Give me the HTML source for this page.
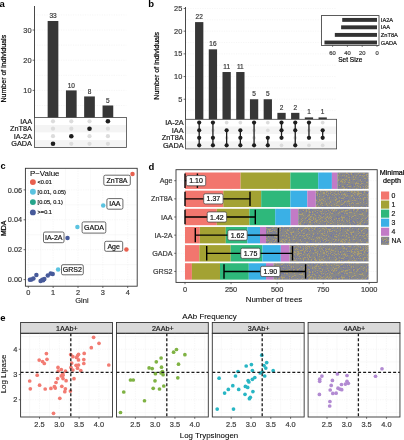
<!DOCTYPE html>
<html><head><meta charset="utf-8"><style>
html,body{margin:0;padding:0;background:#fff;width:404px;height:440px;overflow:hidden;}
svg{display:block;}
text{font-family:"Liberation Sans", sans-serif;}
</style></head><body>
<svg width="404" height="440" viewBox="0 0 404 440" style="will-change:transform;filter:blur(0.28px)">
<rect width="404" height="440" fill="#fff"/>
<text x="-0.4" y="6.8" text-anchor="start" font-size="9.5" fill="#000" font-weight="bold">a</text>
<text x="148.3" y="6.8" text-anchor="start" font-size="9.5" fill="#000" font-weight="bold">b</text>
<text x="0.6" y="169.3" text-anchor="start" font-size="9.2" fill="#000" font-weight="bold">c</text>
<text x="148.4" y="169.6" text-anchor="start" font-size="9.5" fill="#000" font-weight="bold">d</text>
<text x="0.2" y="321.2" text-anchor="start" font-size="9.5" fill="#000" font-weight="bold">e</text>
<line x1="34.5" y1="105.49" x2="126.4" y2="105.49" stroke="#f0f0f0" stroke-width="0.6" stroke-dasharray="1.2,1.2"/>
<line x1="34.5" y1="90.4" x2="126.4" y2="90.4" stroke="#f0f0f0" stroke-width="0.6" stroke-dasharray="1.2,1.2"/>
<line x1="34.5" y1="75.31" x2="126.4" y2="75.31" stroke="#f0f0f0" stroke-width="0.6" stroke-dasharray="1.2,1.2"/>
<line x1="34.5" y1="60.22" x2="126.4" y2="60.22" stroke="#f0f0f0" stroke-width="0.6" stroke-dasharray="1.2,1.2"/>
<line x1="34.5" y1="45.13000000000001" x2="126.4" y2="45.13000000000001" stroke="#f0f0f0" stroke-width="0.6" stroke-dasharray="1.2,1.2"/>
<line x1="34.5" y1="30.040000000000006" x2="126.4" y2="30.040000000000006" stroke="#f0f0f0" stroke-width="0.6" stroke-dasharray="1.2,1.2"/>
<line x1="34.5" y1="14.950000000000003" x2="126.4" y2="14.950000000000003" stroke="#f0f0f0" stroke-width="0.6" stroke-dasharray="1.2,1.2"/>
<line x1="34.5" y1="6.0" x2="34.5" y2="117.5" stroke="#333333" stroke-width="0.9"/>
<line x1="32.6" y1="90.4" x2="34.5" y2="90.4" stroke="#333333" stroke-width="0.7"/>
<text x="31.5" y="93.0" text-anchor="end" font-size="7.4" fill="#3a3a3a" stroke="#3a3a3a" stroke-width="0.2">10</text>
<line x1="32.6" y1="60.22" x2="34.5" y2="60.22" stroke="#333333" stroke-width="0.7"/>
<text x="31.5" y="62.82" text-anchor="end" font-size="7.4" fill="#3a3a3a" stroke="#3a3a3a" stroke-width="0.2">20</text>
<line x1="32.6" y1="30.040000000000006" x2="34.5" y2="30.040000000000006" stroke="#333333" stroke-width="0.7"/>
<text x="31.5" y="32.64000000000001" text-anchor="end" font-size="7.4" fill="#3a3a3a" stroke="#3a3a3a" stroke-width="0.2">30</text>
<text transform="translate(5.9,68.7) rotate(-90)" text-anchor="middle" font-size="7.05" fill="#000" stroke="#000" stroke-width="0.2">Number of individuals</text>
<rect x="47.65" y="20.99" width="10.70" height="96.51" fill="#363636"/>
<text x="53.0" y="18.286000000000005" text-anchor="middle" font-size="6.5" fill="#3a3a3a" stroke="#3a3a3a" stroke-width="0.2">33</text>
<rect x="65.95" y="90.40" width="10.70" height="27.10" fill="#363636"/>
<text x="71.3" y="87.7" text-anchor="middle" font-size="6.5" fill="#3a3a3a" stroke="#3a3a3a" stroke-width="0.2">10</text>
<rect x="84.15" y="96.44" width="10.70" height="21.06" fill="#363636"/>
<text x="89.5" y="93.736" text-anchor="middle" font-size="6.5" fill="#3a3a3a" stroke="#3a3a3a" stroke-width="0.2">8</text>
<rect x="102.55" y="105.49" width="10.70" height="12.01" fill="#363636"/>
<text x="107.9" y="102.78999999999999" text-anchor="middle" font-size="6.5" fill="#3a3a3a" stroke="#3a3a3a" stroke-width="0.2">5</text>
<rect x="34.50" y="125.00" width="91.90" height="7.40" fill="#f4f4f4"/>
<rect x="34.50" y="140.10" width="91.90" height="7.40" fill="#f4f4f4"/>
<rect x="34.5" y="117.5" width="91.90" height="30" fill="none" stroke="#444" stroke-width="0.8"/>
<text x="32.0" y="123.89999999999999" text-anchor="end" font-size="7.3" fill="#1a1a1a" stroke="#1a1a1a" stroke-width="0.2">IAA</text>
<text x="32.0" y="131.29999999999998" text-anchor="end" font-size="7.3" fill="#1a1a1a" stroke="#1a1a1a" stroke-width="0.2">ZnT8A</text>
<text x="32.0" y="138.79999999999998" text-anchor="end" font-size="7.3" fill="#1a1a1a" stroke="#1a1a1a" stroke-width="0.2">IA-2A</text>
<text x="32.0" y="146.4" text-anchor="end" font-size="7.3" fill="#1a1a1a" stroke="#1a1a1a" stroke-width="0.2">GADA</text>
<circle cx="53.00" cy="121.30" r="2.1" fill="#dcdcdc"/>
<circle cx="53.00" cy="128.70" r="2.1" fill="#dcdcdc"/>
<circle cx="53.00" cy="136.20" r="2.1" fill="#dcdcdc"/>
<circle cx="53.00" cy="143.80" r="2.3" fill="#1e1e1e"/>
<circle cx="71.30" cy="121.30" r="2.1" fill="#dcdcdc"/>
<circle cx="71.30" cy="128.70" r="2.1" fill="#dcdcdc"/>
<circle cx="71.30" cy="136.20" r="2.3" fill="#1e1e1e"/>
<circle cx="71.30" cy="143.80" r="2.1" fill="#dcdcdc"/>
<circle cx="89.50" cy="121.30" r="2.1" fill="#dcdcdc"/>
<circle cx="89.50" cy="128.70" r="2.3" fill="#1e1e1e"/>
<circle cx="89.50" cy="136.20" r="2.1" fill="#dcdcdc"/>
<circle cx="89.50" cy="143.80" r="2.1" fill="#dcdcdc"/>
<circle cx="107.90" cy="121.30" r="2.3" fill="#1e1e1e"/>
<circle cx="107.90" cy="128.70" r="2.1" fill="#dcdcdc"/>
<circle cx="107.90" cy="136.20" r="2.1" fill="#dcdcdc"/>
<circle cx="107.90" cy="143.80" r="2.1" fill="#dcdcdc"/>
<line x1="185.5" y1="110.595" x2="336.6" y2="110.595" stroke="#f0f0f0" stroke-width="0.6" stroke-dasharray="1.2,1.2"/>
<line x1="185.5" y1="99.25" x2="336.6" y2="99.25" stroke="#f0f0f0" stroke-width="0.6" stroke-dasharray="1.2,1.2"/>
<line x1="185.5" y1="87.905" x2="336.6" y2="87.905" stroke="#f0f0f0" stroke-width="0.6" stroke-dasharray="1.2,1.2"/>
<line x1="185.5" y1="76.56" x2="336.6" y2="76.56" stroke="#f0f0f0" stroke-width="0.6" stroke-dasharray="1.2,1.2"/>
<line x1="185.5" y1="65.215" x2="336.6" y2="65.215" stroke="#f0f0f0" stroke-width="0.6" stroke-dasharray="1.2,1.2"/>
<line x1="185.5" y1="53.86999999999999" x2="336.6" y2="53.86999999999999" stroke="#f0f0f0" stroke-width="0.6" stroke-dasharray="1.2,1.2"/>
<line x1="185.5" y1="42.52499999999999" x2="336.6" y2="42.52499999999999" stroke="#f0f0f0" stroke-width="0.6" stroke-dasharray="1.2,1.2"/>
<line x1="185.5" y1="31.179999999999993" x2="336.6" y2="31.179999999999993" stroke="#f0f0f0" stroke-width="0.6" stroke-dasharray="1.2,1.2"/>
<line x1="185.5" y1="19.834999999999994" x2="336.6" y2="19.834999999999994" stroke="#f0f0f0" stroke-width="0.6" stroke-dasharray="1.2,1.2"/>
<line x1="185.5" y1="8.489999999999995" x2="336.6" y2="8.489999999999995" stroke="#f0f0f0" stroke-width="0.6" stroke-dasharray="1.2,1.2"/>
<line x1="185.5" y1="7.0" x2="185.5" y2="119.0" stroke="#333333" stroke-width="0.9"/>
<line x1="183.6" y1="99.25" x2="185.5" y2="99.25" stroke="#333333" stroke-width="0.7"/>
<text x="182.3" y="101.85" text-anchor="end" font-size="7.4" fill="#3a3a3a" stroke="#3a3a3a" stroke-width="0.2">5</text>
<line x1="183.6" y1="76.56" x2="185.5" y2="76.56" stroke="#333333" stroke-width="0.7"/>
<text x="182.3" y="79.16" text-anchor="end" font-size="7.4" fill="#3a3a3a" stroke="#3a3a3a" stroke-width="0.2">10</text>
<line x1="183.6" y1="53.86999999999999" x2="185.5" y2="53.86999999999999" stroke="#333333" stroke-width="0.7"/>
<text x="182.3" y="56.46999999999999" text-anchor="end" font-size="7.4" fill="#3a3a3a" stroke="#3a3a3a" stroke-width="0.2">15</text>
<line x1="183.6" y1="31.179999999999993" x2="185.5" y2="31.179999999999993" stroke="#333333" stroke-width="0.7"/>
<text x="182.3" y="33.779999999999994" text-anchor="end" font-size="7.4" fill="#3a3a3a" stroke="#3a3a3a" stroke-width="0.2">20</text>
<line x1="183.6" y1="8.489999999999995" x2="185.5" y2="8.489999999999995" stroke="#333333" stroke-width="0.7"/>
<text x="182.3" y="11.089999999999995" text-anchor="end" font-size="7.4" fill="#3a3a3a" stroke="#3a3a3a" stroke-width="0.2">25</text>
<text transform="translate(159.3,65.8) rotate(-90)" text-anchor="middle" font-size="7.05" fill="#000" stroke="#000" stroke-width="0.2">Number of individuals</text>
<rect x="195.05" y="22.10" width="8.30" height="97.20" fill="#363636"/>
<text x="199.2" y="18.903999999999986" text-anchor="middle" font-size="6.5" fill="#3a3a3a" stroke="#3a3a3a" stroke-width="0.2">22</text>
<rect x="208.77" y="49.33" width="8.30" height="69.97" fill="#363636"/>
<text x="212.92" y="46.13199999999999" text-anchor="middle" font-size="6.5" fill="#3a3a3a" stroke="#3a3a3a" stroke-width="0.2">16</text>
<rect x="222.49" y="72.02" width="8.30" height="47.28" fill="#363636"/>
<text x="226.64" y="68.82199999999999" text-anchor="middle" font-size="6.5" fill="#3a3a3a" stroke="#3a3a3a" stroke-width="0.2">11</text>
<rect x="236.21" y="72.02" width="8.30" height="47.28" fill="#363636"/>
<text x="240.35999999999999" y="68.82199999999999" text-anchor="middle" font-size="6.5" fill="#3a3a3a" stroke="#3a3a3a" stroke-width="0.2">11</text>
<rect x="249.93" y="99.25" width="8.30" height="20.05" fill="#363636"/>
<text x="254.07999999999998" y="96.05" text-anchor="middle" font-size="6.5" fill="#3a3a3a" stroke="#3a3a3a" stroke-width="0.2">5</text>
<rect x="263.65" y="99.25" width="8.30" height="20.05" fill="#363636"/>
<text x="267.8" y="96.05" text-anchor="middle" font-size="6.5" fill="#3a3a3a" stroke="#3a3a3a" stroke-width="0.2">5</text>
<rect x="277.37" y="112.86" width="8.30" height="6.44" fill="#363636"/>
<text x="281.52" y="109.664" text-anchor="middle" font-size="6.5" fill="#3a3a3a" stroke="#3a3a3a" stroke-width="0.2">2</text>
<rect x="291.09" y="112.86" width="8.30" height="6.44" fill="#363636"/>
<text x="295.24" y="109.664" text-anchor="middle" font-size="6.5" fill="#3a3a3a" stroke="#3a3a3a" stroke-width="0.2">2</text>
<rect x="304.81" y="117.40" width="8.30" height="1.90" fill="#363636"/>
<text x="308.96" y="114.202" text-anchor="middle" font-size="6.5" fill="#3a3a3a" stroke="#3a3a3a" stroke-width="0.2">1</text>
<rect x="318.53" y="117.40" width="8.30" height="1.90" fill="#363636"/>
<text x="322.68" y="114.202" text-anchor="middle" font-size="6.5" fill="#3a3a3a" stroke="#3a3a3a" stroke-width="0.2">1</text>
<rect x="185.50" y="126.50" width="151.10" height="7.50" fill="#f4f4f4"/>
<rect x="185.50" y="141.40" width="151.10" height="7.50" fill="#f4f4f4"/>
<rect x="185.5" y="119.3" width="151.10" height="29.6" fill="none" stroke="#444" stroke-width="0.8"/>
<text x="183.6" y="125.19999999999999" text-anchor="end" font-size="7.3" fill="#1a1a1a" stroke="#1a1a1a" stroke-width="0.2">IA-2A</text>
<text x="183.6" y="132.9" text-anchor="end" font-size="7.3" fill="#1a1a1a" stroke="#1a1a1a" stroke-width="0.2">IAA</text>
<text x="183.6" y="140.4" text-anchor="end" font-size="7.3" fill="#1a1a1a" stroke="#1a1a1a" stroke-width="0.2">ZnT8A</text>
<text x="183.6" y="147.9" text-anchor="end" font-size="7.3" fill="#1a1a1a" stroke="#1a1a1a" stroke-width="0.2">GADA</text>
<line x1="199.2" y1="122.6" x2="199.2" y2="145.3" stroke="#1e1e1e" stroke-width="1.3"/>
<circle cx="199.20" cy="122.60" r="2.1" fill="#1e1e1e"/>
<circle cx="199.20" cy="130.30" r="2.1" fill="#1e1e1e"/>
<circle cx="199.20" cy="137.80" r="2.1" fill="#1e1e1e"/>
<circle cx="199.20" cy="145.30" r="2.1" fill="#1e1e1e"/>
<circle cx="212.92" cy="130.30" r="1.85" fill="#dcdcdc"/>
<line x1="212.92" y1="122.6" x2="212.92" y2="145.3" stroke="#1e1e1e" stroke-width="1.3"/>
<circle cx="212.92" cy="122.60" r="2.1" fill="#1e1e1e"/>
<circle cx="212.92" cy="137.80" r="2.1" fill="#1e1e1e"/>
<circle cx="212.92" cy="145.30" r="2.1" fill="#1e1e1e"/>
<circle cx="226.64" cy="122.60" r="1.85" fill="#dcdcdc"/>
<circle cx="226.64" cy="137.80" r="1.85" fill="#dcdcdc"/>
<line x1="226.64" y1="130.3" x2="226.64" y2="145.3" stroke="#1e1e1e" stroke-width="1.3"/>
<circle cx="226.64" cy="130.30" r="2.1" fill="#1e1e1e"/>
<circle cx="226.64" cy="145.30" r="2.1" fill="#1e1e1e"/>
<circle cx="240.36" cy="122.60" r="1.85" fill="#dcdcdc"/>
<line x1="240.35999999999999" y1="130.3" x2="240.35999999999999" y2="145.3" stroke="#1e1e1e" stroke-width="1.3"/>
<circle cx="240.36" cy="130.30" r="2.1" fill="#1e1e1e"/>
<circle cx="240.36" cy="137.80" r="2.1" fill="#1e1e1e"/>
<circle cx="240.36" cy="145.30" r="2.1" fill="#1e1e1e"/>
<circle cx="254.08" cy="130.30" r="1.85" fill="#dcdcdc"/>
<circle cx="254.08" cy="137.80" r="1.85" fill="#dcdcdc"/>
<line x1="254.07999999999998" y1="122.6" x2="254.07999999999998" y2="145.3" stroke="#1e1e1e" stroke-width="1.3"/>
<circle cx="254.08" cy="122.60" r="2.1" fill="#1e1e1e"/>
<circle cx="254.08" cy="145.30" r="2.1" fill="#1e1e1e"/>
<circle cx="267.80" cy="122.60" r="1.85" fill="#dcdcdc"/>
<circle cx="267.80" cy="130.30" r="1.85" fill="#dcdcdc"/>
<line x1="267.8" y1="137.8" x2="267.8" y2="145.3" stroke="#1e1e1e" stroke-width="1.3"/>
<circle cx="267.80" cy="137.80" r="2.1" fill="#1e1e1e"/>
<circle cx="267.80" cy="145.30" r="2.1" fill="#1e1e1e"/>
<circle cx="281.52" cy="145.30" r="1.85" fill="#dcdcdc"/>
<line x1="281.52" y1="122.6" x2="281.52" y2="137.8" stroke="#1e1e1e" stroke-width="1.3"/>
<circle cx="281.52" cy="122.60" r="2.1" fill="#1e1e1e"/>
<circle cx="281.52" cy="130.30" r="2.1" fill="#1e1e1e"/>
<circle cx="281.52" cy="137.80" r="2.1" fill="#1e1e1e"/>
<circle cx="295.24" cy="137.80" r="1.85" fill="#dcdcdc"/>
<line x1="295.24" y1="122.6" x2="295.24" y2="145.3" stroke="#1e1e1e" stroke-width="1.3"/>
<circle cx="295.24" cy="122.60" r="2.1" fill="#1e1e1e"/>
<circle cx="295.24" cy="130.30" r="2.1" fill="#1e1e1e"/>
<circle cx="295.24" cy="145.30" r="2.1" fill="#1e1e1e"/>
<circle cx="308.96" cy="130.30" r="1.85" fill="#dcdcdc"/>
<circle cx="308.96" cy="145.30" r="1.85" fill="#dcdcdc"/>
<line x1="308.96" y1="122.6" x2="308.96" y2="137.8" stroke="#1e1e1e" stroke-width="1.3"/>
<circle cx="308.96" cy="122.60" r="2.1" fill="#1e1e1e"/>
<circle cx="308.96" cy="137.80" r="2.1" fill="#1e1e1e"/>
<circle cx="322.68" cy="122.60" r="1.85" fill="#dcdcdc"/>
<circle cx="322.68" cy="145.30" r="1.85" fill="#dcdcdc"/>
<line x1="322.68" y1="130.3" x2="322.68" y2="137.8" stroke="#1e1e1e" stroke-width="1.3"/>
<circle cx="322.68" cy="130.30" r="2.1" fill="#1e1e1e"/>
<circle cx="322.68" cy="137.80" r="2.1" fill="#1e1e1e"/>
<rect x="321.4" y="15.6" width="57.6" height="29.8" fill="#fff" stroke="#333" stroke-width="0.8"/>
<rect x="342.22" y="17.95" width="34.78" height="3.90" fill="#333"/>
<text x="380.8" y="21.9" text-anchor="start" font-size="5.7" fill="#1a1a1a" stroke="#1a1a1a" stroke-width="0.2">IA2A</text>
<rect x="341.11" y="25.35" width="35.89" height="3.90" fill="#333"/>
<text x="380.8" y="29.3" text-anchor="start" font-size="5.7" fill="#1a1a1a" stroke="#1a1a1a" stroke-width="0.2">IAA</text>
<rect x="334.82" y="32.95" width="42.18" height="3.90" fill="#333"/>
<text x="380.8" y="36.9" text-anchor="start" font-size="5.7" fill="#1a1a1a" stroke="#1a1a1a" stroke-width="0.2">ZnT8A</text>
<rect x="324.46" y="40.55" width="52.54" height="3.90" fill="#333"/>
<text x="380.8" y="44.5" text-anchor="start" font-size="5.7" fill="#1a1a1a" stroke="#1a1a1a" stroke-width="0.2">GADA</text>
<line x1="377.0" y1="45.4" x2="377.0" y2="47.0" stroke="#333333" stroke-width="0.6"/>
<text x="377.0" y="54.6" text-anchor="middle" font-size="5.8" fill="#3a3a3a" stroke="#3a3a3a" stroke-width="0.2">0</text>
<line x1="362.2" y1="45.4" x2="362.2" y2="47.0" stroke="#333333" stroke-width="0.6"/>
<text x="362.2" y="54.6" text-anchor="middle" font-size="5.8" fill="#3a3a3a" stroke="#3a3a3a" stroke-width="0.2">20</text>
<line x1="347.4" y1="45.4" x2="347.4" y2="47.0" stroke="#333333" stroke-width="0.6"/>
<text x="347.4" y="54.6" text-anchor="middle" font-size="5.8" fill="#3a3a3a" stroke="#3a3a3a" stroke-width="0.2">40</text>
<line x1="332.6" y1="45.4" x2="332.6" y2="47.0" stroke="#333333" stroke-width="0.6"/>
<text x="332.6" y="54.6" text-anchor="middle" font-size="5.8" fill="#3a3a3a" stroke="#3a3a3a" stroke-width="0.2">60</text>
<text x="350.4" y="61.7" text-anchor="middle" font-size="6.5" fill="#000" stroke="#000" stroke-width="0.2">Set Size</text>
<line x1="40.725" y1="168.3" x2="40.725" y2="286.2" stroke="#f2f2f2" stroke-width="0.5"/>
<line x1="65.575" y1="168.3" x2="65.575" y2="286.2" stroke="#f2f2f2" stroke-width="0.5"/>
<line x1="90.425" y1="168.3" x2="90.425" y2="286.2" stroke="#f2f2f2" stroke-width="0.5"/>
<line x1="115.275" y1="168.3" x2="115.275" y2="286.2" stroke="#f2f2f2" stroke-width="0.5"/>
<line x1="25.4" y1="264.65000000000003" x2="137.2" y2="264.65000000000003" stroke="#f2f2f2" stroke-width="0.5"/>
<line x1="25.4" y1="234.75000000000003" x2="137.2" y2="234.75000000000003" stroke="#f2f2f2" stroke-width="0.5"/>
<line x1="25.4" y1="204.85000000000002" x2="137.2" y2="204.85000000000002" stroke="#f2f2f2" stroke-width="0.5"/>
<line x1="28.3" y1="168.3" x2="28.3" y2="286.2" stroke="#f0f0f0" stroke-width="0.6" stroke-dasharray="1.2,1.2"/>
<line x1="53.150000000000006" y1="168.3" x2="53.150000000000006" y2="286.2" stroke="#f0f0f0" stroke-width="0.6" stroke-dasharray="1.2,1.2"/>
<line x1="78.0" y1="168.3" x2="78.0" y2="286.2" stroke="#f0f0f0" stroke-width="0.6" stroke-dasharray="1.2,1.2"/>
<line x1="102.85000000000001" y1="168.3" x2="102.85000000000001" y2="286.2" stroke="#f0f0f0" stroke-width="0.6" stroke-dasharray="1.2,1.2"/>
<line x1="127.7" y1="168.3" x2="127.7" y2="286.2" stroke="#f0f0f0" stroke-width="0.6" stroke-dasharray="1.2,1.2"/>
<line x1="25.4" y1="279.6" x2="137.2" y2="279.6" stroke="#f0f0f0" stroke-width="0.6" stroke-dasharray="1.2,1.2"/>
<line x1="25.4" y1="249.70000000000002" x2="137.2" y2="249.70000000000002" stroke="#f0f0f0" stroke-width="0.6" stroke-dasharray="1.2,1.2"/>
<line x1="25.4" y1="219.8" x2="137.2" y2="219.8" stroke="#f0f0f0" stroke-width="0.6" stroke-dasharray="1.2,1.2"/>
<line x1="25.4" y1="189.90000000000003" x2="137.2" y2="189.90000000000003" stroke="#f0f0f0" stroke-width="0.6" stroke-dasharray="1.2,1.2"/>
<rect x="25.4" y="168.3" width="111.80" height="117.90" fill="none" stroke="#333" stroke-width="0.9"/>
<line x1="23.6" y1="279.6" x2="25.4" y2="279.6" stroke="#333333" stroke-width="0.7"/>
<text x="22.0" y="282.20000000000005" text-anchor="end" font-size="7.3" fill="#3a3a3a" stroke="#3a3a3a" stroke-width="0.2">0.00</text>
<line x1="23.6" y1="249.70000000000002" x2="25.4" y2="249.70000000000002" stroke="#333333" stroke-width="0.7"/>
<text x="22.0" y="252.3" text-anchor="end" font-size="7.3" fill="#3a3a3a" stroke="#3a3a3a" stroke-width="0.2">0.02</text>
<line x1="23.6" y1="219.8" x2="25.4" y2="219.8" stroke="#333333" stroke-width="0.7"/>
<text x="22.0" y="222.4" text-anchor="end" font-size="7.3" fill="#3a3a3a" stroke="#3a3a3a" stroke-width="0.2">0.04</text>
<line x1="23.6" y1="189.90000000000003" x2="25.4" y2="189.90000000000003" stroke="#333333" stroke-width="0.7"/>
<text x="22.0" y="192.50000000000003" text-anchor="end" font-size="7.3" fill="#3a3a3a" stroke="#3a3a3a" stroke-width="0.2">0.06</text>
<line x1="28.3" y1="286.2" x2="28.3" y2="288.0" stroke="#333333" stroke-width="0.7"/>
<text x="28.3" y="295.0" text-anchor="middle" font-size="7.4" fill="#3a3a3a" stroke="#3a3a3a" stroke-width="0.2">0</text>
<line x1="53.150000000000006" y1="286.2" x2="53.150000000000006" y2="288.0" stroke="#333333" stroke-width="0.7"/>
<text x="53.150000000000006" y="295.0" text-anchor="middle" font-size="7.4" fill="#3a3a3a" stroke="#3a3a3a" stroke-width="0.2">1</text>
<line x1="78.0" y1="286.2" x2="78.0" y2="288.0" stroke="#333333" stroke-width="0.7"/>
<text x="78.0" y="295.0" text-anchor="middle" font-size="7.4" fill="#3a3a3a" stroke="#3a3a3a" stroke-width="0.2">2</text>
<line x1="102.85000000000001" y1="286.2" x2="102.85000000000001" y2="288.0" stroke="#333333" stroke-width="0.7"/>
<text x="102.85000000000001" y="295.0" text-anchor="middle" font-size="7.4" fill="#3a3a3a" stroke="#3a3a3a" stroke-width="0.2">3</text>
<line x1="127.7" y1="286.2" x2="127.7" y2="288.0" stroke="#333333" stroke-width="0.7"/>
<text x="127.7" y="295.0" text-anchor="middle" font-size="7.4" fill="#3a3a3a" stroke="#3a3a3a" stroke-width="0.2">4</text>
<text x="81.9" y="302.7" text-anchor="middle" font-size="7.5" fill="#000" stroke="#000" stroke-width="0.06">Gini</text>
<text transform="translate(5.8,228.3) rotate(-90)" text-anchor="middle" font-size="6.9" fill="#000" stroke="#000" stroke-width="0.2">MDA</text>
<text x="30.0" y="176.0" text-anchor="start" font-size="7.9" fill="#000" stroke="#000" stroke-width="0.06">P−Value</text>
<circle cx="32.90" cy="182.10" r="2.95" fill="#e8604f"/>
<text x="37.6" y="184.1" text-anchor="start" font-size="5.6" fill="#1a1a1a" stroke="#1a1a1a" stroke-width="0.2">&lt;0.01</text>
<circle cx="32.90" cy="191.70" r="2.95" fill="#5bc3e0"/>
<text x="37.6" y="193.7" text-anchor="start" font-size="5.6" fill="#1a1a1a" stroke="#1a1a1a" stroke-width="0.2">[0.01, 0.05)</text>
<circle cx="32.90" cy="202.10" r="2.95" fill="#26a58b"/>
<text x="37.6" y="204.1" text-anchor="start" font-size="5.6" fill="#1a1a1a" stroke="#1a1a1a" stroke-width="0.2">[0.05, 0.1)</text>
<circle cx="32.90" cy="212.40" r="2.95" fill="#475a9a"/>
<text x="37.6" y="214.4" text-anchor="start" font-size="5.6" fill="#1a1a1a" stroke="#1a1a1a" stroke-width="0.2">&gt;=0.1</text>
<circle cx="29.90" cy="279.80" r="2.25" fill="#475a9a"/>
<circle cx="33.40" cy="278.60" r="2.25" fill="#475a9a"/>
<circle cx="36.40" cy="274.90" r="2.25" fill="#475a9a"/>
<circle cx="40.60" cy="281.00" r="2.25" fill="#475a9a"/>
<circle cx="42.30" cy="279.80" r="2.25" fill="#475a9a"/>
<circle cx="44.30" cy="279.10" r="2.25" fill="#475a9a"/>
<circle cx="47.80" cy="275.60" r="2.25" fill="#475a9a"/>
<circle cx="50.70" cy="273.40" r="2.25" fill="#475a9a"/>
<circle cx="52.70" cy="273.90" r="2.25" fill="#475a9a"/>
<circle cx="31.50" cy="279.60" r="2.25" fill="#475a9a"/>
<circle cx="43.20" cy="280.30" r="2.25" fill="#475a9a"/>
<circle cx="67.50" cy="238.10" r="2.25" fill="#475a9a"/>
<circle cx="58.10" cy="269.60" r="2.25" fill="#5bc3e0"/>
<circle cx="77.40" cy="226.90" r="2.25" fill="#5bc3e0"/>
<circle cx="103.20" cy="205.50" r="2.25" fill="#5bc3e0"/>
<circle cx="132.50" cy="173.90" r="2.25" fill="#e8604f"/>
<circle cx="126.40" cy="249.50" r="2.25" fill="#e8604f"/>
<rect x="103.80" y="175.20" width="26.50" height="10.20" rx="1.5" fill="#fff" stroke="#444" stroke-width="0.8"/>
<text x="117.05000000000001" y="182.8" text-anchor="middle" font-size="7.0" fill="#111" stroke="#111" stroke-width="0.2">ZnT8A</text>
<rect x="106.90" y="198.60" width="16.00" height="10.60" rx="1.5" fill="#fff" stroke="#444" stroke-width="0.8"/>
<text x="114.9" y="206.39999999999998" text-anchor="middle" font-size="7.0" fill="#111" stroke="#111" stroke-width="0.2">IAA</text>
<rect x="82.10" y="221.90" width="23.70" height="11.20" rx="1.5" fill="#fff" stroke="#444" stroke-width="0.8"/>
<text x="93.94999999999999" y="230.0" text-anchor="middle" font-size="7.0" fill="#111" stroke="#111" stroke-width="0.2">GADA</text>
<rect x="43.50" y="232.00" width="20.50" height="10.70" rx="1.5" fill="#fff" stroke="#444" stroke-width="0.8"/>
<text x="53.75" y="239.85" text-anchor="middle" font-size="7.0" fill="#111" stroke="#111" stroke-width="0.2">IA-2A</text>
<rect x="104.70" y="241.30" width="18.00" height="10.00" rx="1.5" fill="#fff" stroke="#444" stroke-width="0.8"/>
<text x="113.7" y="248.8" text-anchor="middle" font-size="7.0" fill="#111" stroke="#111" stroke-width="0.2">Age</text>
<rect x="61.50" y="264.70" width="21.80" height="10.10" rx="1.5" fill="#fff" stroke="#444" stroke-width="0.8"/>
<text x="72.4" y="272.25" text-anchor="middle" font-size="7.0" fill="#111" stroke="#111" stroke-width="0.2">GRS2</text>
<line x1="185.0" y1="169.7" x2="185.0" y2="282.4" stroke="#f0f0f0" stroke-width="0.6" stroke-dasharray="1.2,1.2"/>
<line x1="231.05" y1="169.7" x2="231.05" y2="282.4" stroke="#f0f0f0" stroke-width="0.6" stroke-dasharray="1.2,1.2"/>
<line x1="277.1" y1="169.7" x2="277.1" y2="282.4" stroke="#f0f0f0" stroke-width="0.6" stroke-dasharray="1.2,1.2"/>
<line x1="323.15" y1="169.7" x2="323.15" y2="282.4" stroke="#f0f0f0" stroke-width="0.6" stroke-dasharray="1.2,1.2"/>
<line x1="369.2" y1="169.7" x2="369.2" y2="282.4" stroke="#f0f0f0" stroke-width="0.6" stroke-dasharray="1.2,1.2"/>
<line x1="176.0" y1="180.7" x2="377.2" y2="180.7" stroke="#f0f0f0" stroke-width="0.6" stroke-dasharray="1.2,1.2"/>
<line x1="176.0" y1="198.85" x2="377.2" y2="198.85" stroke="#f0f0f0" stroke-width="0.6" stroke-dasharray="1.2,1.2"/>
<line x1="176.0" y1="217.0" x2="377.2" y2="217.0" stroke="#f0f0f0" stroke-width="0.6" stroke-dasharray="1.2,1.2"/>
<line x1="176.0" y1="235.14999999999998" x2="377.2" y2="235.14999999999998" stroke="#f0f0f0" stroke-width="0.6" stroke-dasharray="1.2,1.2"/>
<line x1="176.0" y1="253.29999999999998" x2="377.2" y2="253.29999999999998" stroke="#f0f0f0" stroke-width="0.6" stroke-dasharray="1.2,1.2"/>
<line x1="176.0" y1="271.45" x2="377.2" y2="271.45" stroke="#f0f0f0" stroke-width="0.6" stroke-dasharray="1.2,1.2"/>
<defs><pattern id="na" x="0" y="0" width="60" height="60" patternUnits="userSpaceOnUse"><rect width="60" height="60" fill="#888888"/><rect x="0" y="0" width="1" height="1" fill="#aa9c70"/><rect x="1" y="0" width="1" height="1" fill="#767aa0"/><rect x="3" y="0" width="1" height="1" fill="#767aa0"/><rect x="6" y="0" width="1" height="1" fill="#767aa0"/><rect x="8" y="0" width="1" height="1" fill="#767aa0"/><rect x="10" y="0" width="1" height="1" fill="#767aa0"/><rect x="11" y="0" width="1" height="1" fill="#767aa0"/><rect x="14" y="0" width="1" height="1" fill="#767aa0"/><rect x="15" y="0" width="1" height="1" fill="#aa9c70"/><rect x="21" y="0" width="1" height="1" fill="#767aa0"/><rect x="23" y="0" width="1" height="1" fill="#aa9c70"/><rect x="24" y="0" width="1" height="1" fill="#767aa0"/><rect x="25" y="0" width="1" height="1" fill="#767aa0"/><rect x="26" y="0" width="1" height="1" fill="#aa9c70"/><rect x="28" y="0" width="1" height="1" fill="#aa9c70"/><rect x="33" y="0" width="1" height="1" fill="#767aa0"/><rect x="34" y="0" width="1" height="1" fill="#767aa0"/><rect x="35" y="0" width="1" height="1" fill="#aa9c70"/><rect x="38" y="0" width="1" height="1" fill="#aa9c70"/><rect x="41" y="0" width="1" height="1" fill="#aa9c70"/><rect x="44" y="0" width="1" height="1" fill="#aa9c70"/><rect x="49" y="0" width="1" height="1" fill="#aa9c70"/><rect x="51" y="0" width="1" height="1" fill="#767aa0"/><rect x="54" y="0" width="1" height="1" fill="#767aa0"/><rect x="56" y="0" width="1" height="1" fill="#767aa0"/><rect x="1" y="1" width="1" height="1" fill="#aa9c70"/><rect x="10" y="1" width="1" height="1" fill="#767aa0"/><rect x="15" y="1" width="1" height="1" fill="#aa9c70"/><rect x="18" y="1" width="1" height="1" fill="#767aa0"/><rect x="20" y="1" width="1" height="1" fill="#aa9c70"/><rect x="21" y="1" width="1" height="1" fill="#767aa0"/><rect x="22" y="1" width="1" height="1" fill="#767aa0"/><rect x="24" y="1" width="1" height="1" fill="#767aa0"/><rect x="25" y="1" width="1" height="1" fill="#aa9c70"/><rect x="28" y="1" width="1" height="1" fill="#767aa0"/><rect x="34" y="1" width="1" height="1" fill="#aa9c70"/><rect x="39" y="1" width="1" height="1" fill="#767aa0"/><rect x="40" y="1" width="1" height="1" fill="#aa9c70"/><rect x="41" y="1" width="1" height="1" fill="#aa9c70"/><rect x="42" y="1" width="1" height="1" fill="#aa9c70"/><rect x="45" y="1" width="1" height="1" fill="#aa9c70"/><rect x="46" y="1" width="1" height="1" fill="#767aa0"/><rect x="55" y="1" width="1" height="1" fill="#767aa0"/><rect x="2" y="2" width="1" height="1" fill="#767aa0"/><rect x="4" y="2" width="1" height="1" fill="#767aa0"/><rect x="5" y="2" width="1" height="1" fill="#767aa0"/><rect x="6" y="2" width="1" height="1" fill="#aa9c70"/><rect x="7" y="2" width="1" height="1" fill="#aa9c70"/><rect x="9" y="2" width="1" height="1" fill="#767aa0"/><rect x="10" y="2" width="1" height="1" fill="#767aa0"/><rect x="11" y="2" width="1" height="1" fill="#767aa0"/><rect x="12" y="2" width="1" height="1" fill="#767aa0"/><rect x="14" y="2" width="1" height="1" fill="#767aa0"/><rect x="17" y="2" width="1" height="1" fill="#767aa0"/><rect x="18" y="2" width="1" height="1" fill="#aa9c70"/><rect x="21" y="2" width="1" height="1" fill="#767aa0"/><rect x="26" y="2" width="1" height="1" fill="#767aa0"/><rect x="27" y="2" width="1" height="1" fill="#767aa0"/><rect x="29" y="2" width="1" height="1" fill="#aa9c70"/><rect x="31" y="2" width="1" height="1" fill="#aa9c70"/><rect x="32" y="2" width="1" height="1" fill="#767aa0"/><rect x="35" y="2" width="1" height="1" fill="#767aa0"/><rect x="37" y="2" width="1" height="1" fill="#767aa0"/><rect x="42" y="2" width="1" height="1" fill="#aa9c70"/><rect x="44" y="2" width="1" height="1" fill="#aa9c70"/><rect x="48" y="2" width="1" height="1" fill="#aa9c70"/><rect x="49" y="2" width="1" height="1" fill="#aa9c70"/><rect x="56" y="2" width="1" height="1" fill="#aa9c70"/><rect x="59" y="2" width="1" height="1" fill="#767aa0"/><rect x="0" y="3" width="1" height="1" fill="#767aa0"/><rect x="1" y="3" width="1" height="1" fill="#aa9c70"/><rect x="2" y="3" width="1" height="1" fill="#aa9c70"/><rect x="10" y="3" width="1" height="1" fill="#aa9c70"/><rect x="11" y="3" width="1" height="1" fill="#aa9c70"/><rect x="12" y="3" width="1" height="1" fill="#aa9c70"/><rect x="13" y="3" width="1" height="1" fill="#aa9c70"/><rect x="20" y="3" width="1" height="1" fill="#767aa0"/><rect x="26" y="3" width="1" height="1" fill="#aa9c70"/><rect x="28" y="3" width="1" height="1" fill="#aa9c70"/><rect x="35" y="3" width="1" height="1" fill="#aa9c70"/><rect x="36" y="3" width="1" height="1" fill="#767aa0"/><rect x="37" y="3" width="1" height="1" fill="#767aa0"/><rect x="40" y="3" width="1" height="1" fill="#767aa0"/><rect x="46" y="3" width="1" height="1" fill="#767aa0"/><rect x="47" y="3" width="1" height="1" fill="#767aa0"/><rect x="55" y="3" width="1" height="1" fill="#aa9c70"/><rect x="56" y="3" width="1" height="1" fill="#aa9c70"/><rect x="57" y="3" width="1" height="1" fill="#aa9c70"/><rect x="58" y="3" width="1" height="1" fill="#aa9c70"/><rect x="0" y="4" width="1" height="1" fill="#aa9c70"/><rect x="2" y="4" width="1" height="1" fill="#767aa0"/><rect x="13" y="4" width="1" height="1" fill="#767aa0"/><rect x="15" y="4" width="1" height="1" fill="#aa9c70"/><rect x="16" y="4" width="1" height="1" fill="#767aa0"/><rect x="18" y="4" width="1" height="1" fill="#aa9c70"/><rect x="22" y="4" width="1" height="1" fill="#aa9c70"/><rect x="26" y="4" width="1" height="1" fill="#767aa0"/><rect x="28" y="4" width="1" height="1" fill="#aa9c70"/><rect x="29" y="4" width="1" height="1" fill="#aa9c70"/><rect x="47" y="4" width="1" height="1" fill="#aa9c70"/><rect x="51" y="4" width="1" height="1" fill="#767aa0"/><rect x="52" y="4" width="1" height="1" fill="#767aa0"/><rect x="54" y="4" width="1" height="1" fill="#767aa0"/><rect x="55" y="4" width="1" height="1" fill="#aa9c70"/><rect x="56" y="4" width="1" height="1" fill="#767aa0"/><rect x="0" y="5" width="1" height="1" fill="#767aa0"/><rect x="3" y="5" width="1" height="1" fill="#767aa0"/><rect x="6" y="5" width="1" height="1" fill="#aa9c70"/><rect x="12" y="5" width="1" height="1" fill="#aa9c70"/><rect x="15" y="5" width="1" height="1" fill="#aa9c70"/><rect x="16" y="5" width="1" height="1" fill="#aa9c70"/><rect x="17" y="5" width="1" height="1" fill="#aa9c70"/><rect x="19" y="5" width="1" height="1" fill="#767aa0"/><rect x="22" y="5" width="1" height="1" fill="#767aa0"/><rect x="23" y="5" width="1" height="1" fill="#aa9c70"/><rect x="26" y="5" width="1" height="1" fill="#767aa0"/><rect x="30" y="5" width="1" height="1" fill="#767aa0"/><rect x="31" y="5" width="1" height="1" fill="#aa9c70"/><rect x="32" y="5" width="1" height="1" fill="#767aa0"/><rect x="34" y="5" width="1" height="1" fill="#aa9c70"/><rect x="35" y="5" width="1" height="1" fill="#767aa0"/><rect x="39" y="5" width="1" height="1" fill="#aa9c70"/><rect x="40" y="5" width="1" height="1" fill="#767aa0"/><rect x="44" y="5" width="1" height="1" fill="#767aa0"/><rect x="45" y="5" width="1" height="1" fill="#767aa0"/><rect x="48" y="5" width="1" height="1" fill="#767aa0"/><rect x="52" y="5" width="1" height="1" fill="#767aa0"/><rect x="54" y="5" width="1" height="1" fill="#767aa0"/><rect x="57" y="5" width="1" height="1" fill="#aa9c70"/><rect x="0" y="6" width="1" height="1" fill="#aa9c70"/><rect x="1" y="6" width="1" height="1" fill="#767aa0"/><rect x="3" y="6" width="1" height="1" fill="#aa9c70"/><rect x="4" y="6" width="1" height="1" fill="#767aa0"/><rect x="5" y="6" width="1" height="1" fill="#aa9c70"/><rect x="6" y="6" width="1" height="1" fill="#767aa0"/><rect x="7" y="6" width="1" height="1" fill="#aa9c70"/><rect x="8" y="6" width="1" height="1" fill="#aa9c70"/><rect x="9" y="6" width="1" height="1" fill="#aa9c70"/><rect x="11" y="6" width="1" height="1" fill="#aa9c70"/><rect x="13" y="6" width="1" height="1" fill="#aa9c70"/><rect x="15" y="6" width="1" height="1" fill="#767aa0"/><rect x="16" y="6" width="1" height="1" fill="#aa9c70"/><rect x="17" y="6" width="1" height="1" fill="#767aa0"/><rect x="20" y="6" width="1" height="1" fill="#aa9c70"/><rect x="23" y="6" width="1" height="1" fill="#767aa0"/><rect x="38" y="6" width="1" height="1" fill="#767aa0"/><rect x="39" y="6" width="1" height="1" fill="#767aa0"/><rect x="40" y="6" width="1" height="1" fill="#767aa0"/><rect x="42" y="6" width="1" height="1" fill="#aa9c70"/><rect x="43" y="6" width="1" height="1" fill="#aa9c70"/><rect x="44" y="6" width="1" height="1" fill="#767aa0"/><rect x="48" y="6" width="1" height="1" fill="#aa9c70"/><rect x="49" y="6" width="1" height="1" fill="#aa9c70"/><rect x="50" y="6" width="1" height="1" fill="#aa9c70"/><rect x="52" y="6" width="1" height="1" fill="#767aa0"/><rect x="54" y="6" width="1" height="1" fill="#aa9c70"/><rect x="58" y="6" width="1" height="1" fill="#aa9c70"/><rect x="0" y="7" width="1" height="1" fill="#aa9c70"/><rect x="2" y="7" width="1" height="1" fill="#767aa0"/><rect x="6" y="7" width="1" height="1" fill="#aa9c70"/><rect x="8" y="7" width="1" height="1" fill="#767aa0"/><rect x="9" y="7" width="1" height="1" fill="#aa9c70"/><rect x="10" y="7" width="1" height="1" fill="#767aa0"/><rect x="12" y="7" width="1" height="1" fill="#767aa0"/><rect x="13" y="7" width="1" height="1" fill="#767aa0"/><rect x="14" y="7" width="1" height="1" fill="#aa9c70"/><rect x="15" y="7" width="1" height="1" fill="#aa9c70"/><rect x="23" y="7" width="1" height="1" fill="#aa9c70"/><rect x="25" y="7" width="1" height="1" fill="#767aa0"/><rect x="28" y="7" width="1" height="1" fill="#767aa0"/><rect x="34" y="7" width="1" height="1" fill="#767aa0"/><rect x="44" y="7" width="1" height="1" fill="#aa9c70"/><rect x="45" y="7" width="1" height="1" fill="#767aa0"/><rect x="46" y="7" width="1" height="1" fill="#767aa0"/><rect x="48" y="7" width="1" height="1" fill="#767aa0"/><rect x="55" y="7" width="1" height="1" fill="#767aa0"/><rect x="1" y="8" width="1" height="1" fill="#767aa0"/><rect x="3" y="8" width="1" height="1" fill="#aa9c70"/><rect x="4" y="8" width="1" height="1" fill="#767aa0"/><rect x="5" y="8" width="1" height="1" fill="#aa9c70"/><rect x="7" y="8" width="1" height="1" fill="#aa9c70"/><rect x="17" y="8" width="1" height="1" fill="#767aa0"/><rect x="18" y="8" width="1" height="1" fill="#767aa0"/><rect x="19" y="8" width="1" height="1" fill="#aa9c70"/><rect x="21" y="8" width="1" height="1" fill="#aa9c70"/><rect x="23" y="8" width="1" height="1" fill="#767aa0"/><rect x="24" y="8" width="1" height="1" fill="#767aa0"/><rect x="25" y="8" width="1" height="1" fill="#aa9c70"/><rect x="29" y="8" width="1" height="1" fill="#aa9c70"/><rect x="33" y="8" width="1" height="1" fill="#767aa0"/><rect x="35" y="8" width="1" height="1" fill="#aa9c70"/><rect x="38" y="8" width="1" height="1" fill="#767aa0"/><rect x="43" y="8" width="1" height="1" fill="#aa9c70"/><rect x="44" y="8" width="1" height="1" fill="#aa9c70"/><rect x="46" y="8" width="1" height="1" fill="#aa9c70"/><rect x="48" y="8" width="1" height="1" fill="#767aa0"/><rect x="51" y="8" width="1" height="1" fill="#767aa0"/><rect x="56" y="8" width="1" height="1" fill="#aa9c70"/><rect x="59" y="8" width="1" height="1" fill="#767aa0"/><rect x="0" y="9" width="1" height="1" fill="#767aa0"/><rect x="3" y="9" width="1" height="1" fill="#aa9c70"/><rect x="4" y="9" width="1" height="1" fill="#767aa0"/><rect x="6" y="9" width="1" height="1" fill="#aa9c70"/><rect x="8" y="9" width="1" height="1" fill="#767aa0"/><rect x="11" y="9" width="1" height="1" fill="#767aa0"/><rect x="15" y="9" width="1" height="1" fill="#aa9c70"/><rect x="22" y="9" width="1" height="1" fill="#aa9c70"/><rect x="23" y="9" width="1" height="1" fill="#767aa0"/><rect x="24" y="9" width="1" height="1" fill="#767aa0"/><rect x="26" y="9" width="1" height="1" fill="#aa9c70"/><rect x="28" y="9" width="1" height="1" fill="#aa9c70"/><rect x="29" y="9" width="1" height="1" fill="#aa9c70"/><rect x="31" y="9" width="1" height="1" fill="#aa9c70"/><rect x="41" y="9" width="1" height="1" fill="#767aa0"/><rect x="46" y="9" width="1" height="1" fill="#aa9c70"/><rect x="47" y="9" width="1" height="1" fill="#767aa0"/><rect x="49" y="9" width="1" height="1" fill="#767aa0"/><rect x="52" y="9" width="1" height="1" fill="#aa9c70"/><rect x="55" y="9" width="1" height="1" fill="#aa9c70"/><rect x="57" y="9" width="1" height="1" fill="#aa9c70"/><rect x="0" y="10" width="1" height="1" fill="#aa9c70"/><rect x="1" y="10" width="1" height="1" fill="#aa9c70"/><rect x="2" y="10" width="1" height="1" fill="#aa9c70"/><rect x="5" y="10" width="1" height="1" fill="#aa9c70"/><rect x="9" y="10" width="1" height="1" fill="#767aa0"/><rect x="10" y="10" width="1" height="1" fill="#aa9c70"/><rect x="11" y="10" width="1" height="1" fill="#767aa0"/><rect x="13" y="10" width="1" height="1" fill="#767aa0"/><rect x="14" y="10" width="1" height="1" fill="#aa9c70"/><rect x="15" y="10" width="1" height="1" fill="#aa9c70"/><rect x="23" y="10" width="1" height="1" fill="#aa9c70"/><rect x="24" y="10" width="1" height="1" fill="#767aa0"/><rect x="25" y="10" width="1" height="1" fill="#aa9c70"/><rect x="27" y="10" width="1" height="1" fill="#767aa0"/><rect x="31" y="10" width="1" height="1" fill="#aa9c70"/><rect x="32" y="10" width="1" height="1" fill="#aa9c70"/><rect x="33" y="10" width="1" height="1" fill="#aa9c70"/><rect x="39" y="10" width="1" height="1" fill="#767aa0"/><rect x="40" y="10" width="1" height="1" fill="#767aa0"/><rect x="45" y="10" width="1" height="1" fill="#767aa0"/><rect x="51" y="10" width="1" height="1" fill="#aa9c70"/><rect x="52" y="10" width="1" height="1" fill="#767aa0"/><rect x="53" y="10" width="1" height="1" fill="#767aa0"/><rect x="2" y="11" width="1" height="1" fill="#767aa0"/><rect x="4" y="11" width="1" height="1" fill="#aa9c70"/><rect x="7" y="11" width="1" height="1" fill="#aa9c70"/><rect x="8" y="11" width="1" height="1" fill="#767aa0"/><rect x="9" y="11" width="1" height="1" fill="#aa9c70"/><rect x="12" y="11" width="1" height="1" fill="#767aa0"/><rect x="13" y="11" width="1" height="1" fill="#767aa0"/><rect x="17" y="11" width="1" height="1" fill="#aa9c70"/><rect x="19" y="11" width="1" height="1" fill="#767aa0"/><rect x="20" y="11" width="1" height="1" fill="#aa9c70"/><rect x="26" y="11" width="1" height="1" fill="#aa9c70"/><rect x="27" y="11" width="1" height="1" fill="#aa9c70"/><rect x="30" y="11" width="1" height="1" fill="#aa9c70"/><rect x="31" y="11" width="1" height="1" fill="#767aa0"/><rect x="35" y="11" width="1" height="1" fill="#aa9c70"/><rect x="38" y="11" width="1" height="1" fill="#aa9c70"/><rect x="39" y="11" width="1" height="1" fill="#767aa0"/><rect x="40" y="11" width="1" height="1" fill="#aa9c70"/><rect x="43" y="11" width="1" height="1" fill="#aa9c70"/><rect x="47" y="11" width="1" height="1" fill="#aa9c70"/><rect x="49" y="11" width="1" height="1" fill="#aa9c70"/><rect x="51" y="11" width="1" height="1" fill="#aa9c70"/><rect x="52" y="11" width="1" height="1" fill="#aa9c70"/><rect x="54" y="11" width="1" height="1" fill="#aa9c70"/><rect x="57" y="11" width="1" height="1" fill="#aa9c70"/><rect x="58" y="11" width="1" height="1" fill="#aa9c70"/><rect x="2" y="12" width="1" height="1" fill="#767aa0"/><rect x="4" y="12" width="1" height="1" fill="#aa9c70"/><rect x="6" y="12" width="1" height="1" fill="#767aa0"/><rect x="7" y="12" width="1" height="1" fill="#767aa0"/><rect x="8" y="12" width="1" height="1" fill="#767aa0"/><rect x="15" y="12" width="1" height="1" fill="#aa9c70"/><rect x="16" y="12" width="1" height="1" fill="#aa9c70"/><rect x="19" y="12" width="1" height="1" fill="#767aa0"/><rect x="23" y="12" width="1" height="1" fill="#aa9c70"/><rect x="24" y="12" width="1" height="1" fill="#aa9c70"/><rect x="25" y="12" width="1" height="1" fill="#767aa0"/><rect x="26" y="12" width="1" height="1" fill="#aa9c70"/><rect x="29" y="12" width="1" height="1" fill="#767aa0"/><rect x="31" y="12" width="1" height="1" fill="#aa9c70"/><rect x="36" y="12" width="1" height="1" fill="#767aa0"/><rect x="40" y="12" width="1" height="1" fill="#aa9c70"/><rect x="43" y="12" width="1" height="1" fill="#767aa0"/><rect x="47" y="12" width="1" height="1" fill="#767aa0"/><rect x="48" y="12" width="1" height="1" fill="#767aa0"/><rect x="49" y="12" width="1" height="1" fill="#767aa0"/><rect x="51" y="12" width="1" height="1" fill="#aa9c70"/><rect x="54" y="12" width="1" height="1" fill="#aa9c70"/><rect x="55" y="12" width="1" height="1" fill="#aa9c70"/><rect x="58" y="12" width="1" height="1" fill="#aa9c70"/><rect x="0" y="13" width="1" height="1" fill="#aa9c70"/><rect x="1" y="13" width="1" height="1" fill="#aa9c70"/><rect x="2" y="13" width="1" height="1" fill="#767aa0"/><rect x="7" y="13" width="1" height="1" fill="#767aa0"/><rect x="8" y="13" width="1" height="1" fill="#aa9c70"/><rect x="13" y="13" width="1" height="1" fill="#aa9c70"/><rect x="17" y="13" width="1" height="1" fill="#aa9c70"/><rect x="23" y="13" width="1" height="1" fill="#aa9c70"/><rect x="24" y="13" width="1" height="1" fill="#aa9c70"/><rect x="27" y="13" width="1" height="1" fill="#767aa0"/><rect x="28" y="13" width="1" height="1" fill="#aa9c70"/><rect x="30" y="13" width="1" height="1" fill="#aa9c70"/><rect x="31" y="13" width="1" height="1" fill="#767aa0"/><rect x="32" y="13" width="1" height="1" fill="#767aa0"/><rect x="34" y="13" width="1" height="1" fill="#aa9c70"/><rect x="38" y="13" width="1" height="1" fill="#aa9c70"/><rect x="39" y="13" width="1" height="1" fill="#767aa0"/><rect x="40" y="13" width="1" height="1" fill="#767aa0"/><rect x="44" y="13" width="1" height="1" fill="#aa9c70"/><rect x="51" y="13" width="1" height="1" fill="#767aa0"/><rect x="53" y="13" width="1" height="1" fill="#aa9c70"/><rect x="57" y="13" width="1" height="1" fill="#aa9c70"/><rect x="58" y="13" width="1" height="1" fill="#aa9c70"/><rect x="59" y="13" width="1" height="1" fill="#aa9c70"/><rect x="0" y="14" width="1" height="1" fill="#767aa0"/><rect x="3" y="14" width="1" height="1" fill="#aa9c70"/><rect x="7" y="14" width="1" height="1" fill="#aa9c70"/><rect x="11" y="14" width="1" height="1" fill="#767aa0"/><rect x="16" y="14" width="1" height="1" fill="#767aa0"/><rect x="17" y="14" width="1" height="1" fill="#aa9c70"/><rect x="18" y="14" width="1" height="1" fill="#767aa0"/><rect x="19" y="14" width="1" height="1" fill="#aa9c70"/><rect x="26" y="14" width="1" height="1" fill="#aa9c70"/><rect x="29" y="14" width="1" height="1" fill="#767aa0"/><rect x="32" y="14" width="1" height="1" fill="#aa9c70"/><rect x="34" y="14" width="1" height="1" fill="#767aa0"/><rect x="35" y="14" width="1" height="1" fill="#aa9c70"/><rect x="36" y="14" width="1" height="1" fill="#aa9c70"/><rect x="39" y="14" width="1" height="1" fill="#aa9c70"/><rect x="40" y="14" width="1" height="1" fill="#767aa0"/><rect x="41" y="14" width="1" height="1" fill="#aa9c70"/><rect x="43" y="14" width="1" height="1" fill="#aa9c70"/><rect x="44" y="14" width="1" height="1" fill="#aa9c70"/><rect x="45" y="14" width="1" height="1" fill="#aa9c70"/><rect x="48" y="14" width="1" height="1" fill="#767aa0"/><rect x="49" y="14" width="1" height="1" fill="#767aa0"/><rect x="53" y="14" width="1" height="1" fill="#767aa0"/><rect x="54" y="14" width="1" height="1" fill="#aa9c70"/><rect x="57" y="14" width="1" height="1" fill="#aa9c70"/><rect x="58" y="14" width="1" height="1" fill="#aa9c70"/><rect x="0" y="15" width="1" height="1" fill="#aa9c70"/><rect x="7" y="15" width="1" height="1" fill="#aa9c70"/><rect x="9" y="15" width="1" height="1" fill="#aa9c70"/><rect x="10" y="15" width="1" height="1" fill="#767aa0"/><rect x="17" y="15" width="1" height="1" fill="#aa9c70"/><rect x="18" y="15" width="1" height="1" fill="#767aa0"/><rect x="22" y="15" width="1" height="1" fill="#767aa0"/><rect x="26" y="15" width="1" height="1" fill="#767aa0"/><rect x="27" y="15" width="1" height="1" fill="#aa9c70"/><rect x="30" y="15" width="1" height="1" fill="#767aa0"/><rect x="34" y="15" width="1" height="1" fill="#aa9c70"/><rect x="35" y="15" width="1" height="1" fill="#767aa0"/><rect x="39" y="15" width="1" height="1" fill="#767aa0"/><rect x="45" y="15" width="1" height="1" fill="#aa9c70"/><rect x="47" y="15" width="1" height="1" fill="#aa9c70"/><rect x="51" y="15" width="1" height="1" fill="#aa9c70"/><rect x="52" y="15" width="1" height="1" fill="#aa9c70"/><rect x="56" y="15" width="1" height="1" fill="#767aa0"/><rect x="57" y="15" width="1" height="1" fill="#aa9c70"/><rect x="0" y="16" width="1" height="1" fill="#767aa0"/><rect x="3" y="16" width="1" height="1" fill="#767aa0"/><rect x="5" y="16" width="1" height="1" fill="#767aa0"/><rect x="9" y="16" width="1" height="1" fill="#aa9c70"/><rect x="16" y="16" width="1" height="1" fill="#767aa0"/><rect x="19" y="16" width="1" height="1" fill="#aa9c70"/><rect x="23" y="16" width="1" height="1" fill="#aa9c70"/><rect x="25" y="16" width="1" height="1" fill="#767aa0"/><rect x="26" y="16" width="1" height="1" fill="#767aa0"/><rect x="28" y="16" width="1" height="1" fill="#767aa0"/><rect x="31" y="16" width="1" height="1" fill="#767aa0"/><rect x="33" y="16" width="1" height="1" fill="#767aa0"/><rect x="37" y="16" width="1" height="1" fill="#767aa0"/><rect x="41" y="16" width="1" height="1" fill="#767aa0"/><rect x="46" y="16" width="1" height="1" fill="#aa9c70"/><rect x="51" y="16" width="1" height="1" fill="#aa9c70"/><rect x="54" y="16" width="1" height="1" fill="#767aa0"/><rect x="57" y="16" width="1" height="1" fill="#767aa0"/><rect x="59" y="16" width="1" height="1" fill="#aa9c70"/><rect x="1" y="17" width="1" height="1" fill="#767aa0"/><rect x="4" y="17" width="1" height="1" fill="#aa9c70"/><rect x="5" y="17" width="1" height="1" fill="#aa9c70"/><rect x="7" y="17" width="1" height="1" fill="#aa9c70"/><rect x="8" y="17" width="1" height="1" fill="#767aa0"/><rect x="9" y="17" width="1" height="1" fill="#aa9c70"/><rect x="10" y="17" width="1" height="1" fill="#aa9c70"/><rect x="14" y="17" width="1" height="1" fill="#aa9c70"/><rect x="16" y="17" width="1" height="1" fill="#767aa0"/><rect x="24" y="17" width="1" height="1" fill="#767aa0"/><rect x="29" y="17" width="1" height="1" fill="#aa9c70"/><rect x="35" y="17" width="1" height="1" fill="#aa9c70"/><rect x="37" y="17" width="1" height="1" fill="#767aa0"/><rect x="39" y="17" width="1" height="1" fill="#aa9c70"/><rect x="44" y="17" width="1" height="1" fill="#aa9c70"/><rect x="45" y="17" width="1" height="1" fill="#767aa0"/><rect x="46" y="17" width="1" height="1" fill="#767aa0"/><rect x="47" y="17" width="1" height="1" fill="#767aa0"/><rect x="52" y="17" width="1" height="1" fill="#767aa0"/><rect x="53" y="17" width="1" height="1" fill="#aa9c70"/><rect x="55" y="17" width="1" height="1" fill="#767aa0"/><rect x="56" y="17" width="1" height="1" fill="#767aa0"/><rect x="58" y="17" width="1" height="1" fill="#767aa0"/><rect x="0" y="18" width="1" height="1" fill="#aa9c70"/><rect x="3" y="18" width="1" height="1" fill="#aa9c70"/><rect x="6" y="18" width="1" height="1" fill="#767aa0"/><rect x="8" y="18" width="1" height="1" fill="#aa9c70"/><rect x="9" y="18" width="1" height="1" fill="#767aa0"/><rect x="10" y="18" width="1" height="1" fill="#767aa0"/><rect x="15" y="18" width="1" height="1" fill="#aa9c70"/><rect x="16" y="18" width="1" height="1" fill="#767aa0"/><rect x="24" y="18" width="1" height="1" fill="#aa9c70"/><rect x="26" y="18" width="1" height="1" fill="#767aa0"/><rect x="29" y="18" width="1" height="1" fill="#aa9c70"/><rect x="30" y="18" width="1" height="1" fill="#767aa0"/><rect x="32" y="18" width="1" height="1" fill="#767aa0"/><rect x="35" y="18" width="1" height="1" fill="#767aa0"/><rect x="36" y="18" width="1" height="1" fill="#aa9c70"/><rect x="41" y="18" width="1" height="1" fill="#aa9c70"/><rect x="42" y="18" width="1" height="1" fill="#aa9c70"/><rect x="43" y="18" width="1" height="1" fill="#aa9c70"/><rect x="44" y="18" width="1" height="1" fill="#767aa0"/><rect x="48" y="18" width="1" height="1" fill="#767aa0"/><rect x="54" y="18" width="1" height="1" fill="#aa9c70"/><rect x="55" y="18" width="1" height="1" fill="#767aa0"/><rect x="56" y="18" width="1" height="1" fill="#aa9c70"/><rect x="57" y="18" width="1" height="1" fill="#767aa0"/><rect x="58" y="18" width="1" height="1" fill="#aa9c70"/><rect x="3" y="19" width="1" height="1" fill="#aa9c70"/><rect x="8" y="19" width="1" height="1" fill="#aa9c70"/><rect x="11" y="19" width="1" height="1" fill="#aa9c70"/><rect x="13" y="19" width="1" height="1" fill="#767aa0"/><rect x="14" y="19" width="1" height="1" fill="#aa9c70"/><rect x="15" y="19" width="1" height="1" fill="#aa9c70"/><rect x="19" y="19" width="1" height="1" fill="#aa9c70"/><rect x="21" y="19" width="1" height="1" fill="#aa9c70"/><rect x="22" y="19" width="1" height="1" fill="#aa9c70"/><rect x="35" y="19" width="1" height="1" fill="#aa9c70"/><rect x="36" y="19" width="1" height="1" fill="#aa9c70"/><rect x="38" y="19" width="1" height="1" fill="#767aa0"/><rect x="40" y="19" width="1" height="1" fill="#767aa0"/><rect x="41" y="19" width="1" height="1" fill="#767aa0"/><rect x="42" y="19" width="1" height="1" fill="#767aa0"/><rect x="45" y="19" width="1" height="1" fill="#767aa0"/><rect x="46" y="19" width="1" height="1" fill="#767aa0"/><rect x="47" y="19" width="1" height="1" fill="#767aa0"/><rect x="52" y="19" width="1" height="1" fill="#767aa0"/><rect x="58" y="19" width="1" height="1" fill="#767aa0"/><rect x="2" y="20" width="1" height="1" fill="#767aa0"/><rect x="3" y="20" width="1" height="1" fill="#aa9c70"/><rect x="4" y="20" width="1" height="1" fill="#767aa0"/><rect x="5" y="20" width="1" height="1" fill="#767aa0"/><rect x="11" y="20" width="1" height="1" fill="#aa9c70"/><rect x="12" y="20" width="1" height="1" fill="#767aa0"/><rect x="13" y="20" width="1" height="1" fill="#767aa0"/><rect x="15" y="20" width="1" height="1" fill="#aa9c70"/><rect x="16" y="20" width="1" height="1" fill="#aa9c70"/><rect x="18" y="20" width="1" height="1" fill="#767aa0"/><rect x="19" y="20" width="1" height="1" fill="#aa9c70"/><rect x="20" y="20" width="1" height="1" fill="#aa9c70"/><rect x="23" y="20" width="1" height="1" fill="#aa9c70"/><rect x="28" y="20" width="1" height="1" fill="#767aa0"/><rect x="35" y="20" width="1" height="1" fill="#aa9c70"/><rect x="37" y="20" width="1" height="1" fill="#767aa0"/><rect x="39" y="20" width="1" height="1" fill="#aa9c70"/><rect x="40" y="20" width="1" height="1" fill="#767aa0"/><rect x="41" y="20" width="1" height="1" fill="#aa9c70"/><rect x="44" y="20" width="1" height="1" fill="#767aa0"/><rect x="48" y="20" width="1" height="1" fill="#aa9c70"/><rect x="52" y="20" width="1" height="1" fill="#aa9c70"/><rect x="54" y="20" width="1" height="1" fill="#aa9c70"/><rect x="55" y="20" width="1" height="1" fill="#aa9c70"/><rect x="58" y="20" width="1" height="1" fill="#767aa0"/><rect x="0" y="21" width="1" height="1" fill="#767aa0"/><rect x="9" y="21" width="1" height="1" fill="#767aa0"/><rect x="11" y="21" width="1" height="1" fill="#767aa0"/><rect x="12" y="21" width="1" height="1" fill="#aa9c70"/><rect x="13" y="21" width="1" height="1" fill="#aa9c70"/><rect x="18" y="21" width="1" height="1" fill="#aa9c70"/><rect x="25" y="21" width="1" height="1" fill="#aa9c70"/><rect x="26" y="21" width="1" height="1" fill="#767aa0"/><rect x="30" y="21" width="1" height="1" fill="#aa9c70"/><rect x="34" y="21" width="1" height="1" fill="#767aa0"/><rect x="37" y="21" width="1" height="1" fill="#aa9c70"/><rect x="38" y="21" width="1" height="1" fill="#aa9c70"/><rect x="39" y="21" width="1" height="1" fill="#aa9c70"/><rect x="42" y="21" width="1" height="1" fill="#767aa0"/><rect x="43" y="21" width="1" height="1" fill="#767aa0"/><rect x="44" y="21" width="1" height="1" fill="#aa9c70"/><rect x="45" y="21" width="1" height="1" fill="#aa9c70"/><rect x="47" y="21" width="1" height="1" fill="#aa9c70"/><rect x="48" y="21" width="1" height="1" fill="#aa9c70"/><rect x="49" y="21" width="1" height="1" fill="#aa9c70"/><rect x="52" y="21" width="1" height="1" fill="#767aa0"/><rect x="54" y="21" width="1" height="1" fill="#767aa0"/><rect x="0" y="22" width="1" height="1" fill="#aa9c70"/><rect x="2" y="22" width="1" height="1" fill="#767aa0"/><rect x="3" y="22" width="1" height="1" fill="#aa9c70"/><rect x="5" y="22" width="1" height="1" fill="#767aa0"/><rect x="12" y="22" width="1" height="1" fill="#767aa0"/><rect x="21" y="22" width="1" height="1" fill="#aa9c70"/><rect x="30" y="22" width="1" height="1" fill="#aa9c70"/><rect x="32" y="22" width="1" height="1" fill="#767aa0"/><rect x="37" y="22" width="1" height="1" fill="#aa9c70"/><rect x="44" y="22" width="1" height="1" fill="#aa9c70"/><rect x="50" y="22" width="1" height="1" fill="#767aa0"/><rect x="52" y="22" width="1" height="1" fill="#aa9c70"/><rect x="56" y="22" width="1" height="1" fill="#767aa0"/><rect x="6" y="23" width="1" height="1" fill="#aa9c70"/><rect x="10" y="23" width="1" height="1" fill="#767aa0"/><rect x="13" y="23" width="1" height="1" fill="#767aa0"/><rect x="14" y="23" width="1" height="1" fill="#aa9c70"/><rect x="16" y="23" width="1" height="1" fill="#767aa0"/><rect x="21" y="23" width="1" height="1" fill="#aa9c70"/><rect x="22" y="23" width="1" height="1" fill="#aa9c70"/><rect x="26" y="23" width="1" height="1" fill="#aa9c70"/><rect x="29" y="23" width="1" height="1" fill="#aa9c70"/><rect x="30" y="23" width="1" height="1" fill="#767aa0"/><rect x="36" y="23" width="1" height="1" fill="#aa9c70"/><rect x="43" y="23" width="1" height="1" fill="#aa9c70"/><rect x="45" y="23" width="1" height="1" fill="#767aa0"/><rect x="49" y="23" width="1" height="1" fill="#aa9c70"/><rect x="51" y="23" width="1" height="1" fill="#aa9c70"/><rect x="53" y="23" width="1" height="1" fill="#aa9c70"/><rect x="54" y="23" width="1" height="1" fill="#767aa0"/><rect x="56" y="23" width="1" height="1" fill="#aa9c70"/><rect x="57" y="23" width="1" height="1" fill="#aa9c70"/><rect x="58" y="23" width="1" height="1" fill="#aa9c70"/><rect x="6" y="24" width="1" height="1" fill="#767aa0"/><rect x="10" y="24" width="1" height="1" fill="#767aa0"/><rect x="13" y="24" width="1" height="1" fill="#767aa0"/><rect x="14" y="24" width="1" height="1" fill="#767aa0"/><rect x="17" y="24" width="1" height="1" fill="#aa9c70"/><rect x="18" y="24" width="1" height="1" fill="#767aa0"/><rect x="19" y="24" width="1" height="1" fill="#767aa0"/><rect x="20" y="24" width="1" height="1" fill="#aa9c70"/><rect x="23" y="24" width="1" height="1" fill="#767aa0"/><rect x="26" y="24" width="1" height="1" fill="#aa9c70"/><rect x="34" y="24" width="1" height="1" fill="#aa9c70"/><rect x="41" y="24" width="1" height="1" fill="#aa9c70"/><rect x="42" y="24" width="1" height="1" fill="#aa9c70"/><rect x="43" y="24" width="1" height="1" fill="#767aa0"/><rect x="45" y="24" width="1" height="1" fill="#767aa0"/><rect x="47" y="24" width="1" height="1" fill="#767aa0"/><rect x="52" y="24" width="1" height="1" fill="#767aa0"/><rect x="1" y="25" width="1" height="1" fill="#767aa0"/><rect x="4" y="25" width="1" height="1" fill="#767aa0"/><rect x="8" y="25" width="1" height="1" fill="#aa9c70"/><rect x="13" y="25" width="1" height="1" fill="#767aa0"/><rect x="16" y="25" width="1" height="1" fill="#aa9c70"/><rect x="22" y="25" width="1" height="1" fill="#aa9c70"/><rect x="27" y="25" width="1" height="1" fill="#aa9c70"/><rect x="31" y="25" width="1" height="1" fill="#aa9c70"/><rect x="36" y="25" width="1" height="1" fill="#aa9c70"/><rect x="37" y="25" width="1" height="1" fill="#aa9c70"/><rect x="38" y="25" width="1" height="1" fill="#aa9c70"/><rect x="42" y="25" width="1" height="1" fill="#767aa0"/><rect x="46" y="25" width="1" height="1" fill="#767aa0"/><rect x="47" y="25" width="1" height="1" fill="#aa9c70"/><rect x="48" y="25" width="1" height="1" fill="#767aa0"/><rect x="49" y="25" width="1" height="1" fill="#aa9c70"/><rect x="1" y="26" width="1" height="1" fill="#aa9c70"/><rect x="5" y="26" width="1" height="1" fill="#767aa0"/><rect x="6" y="26" width="1" height="1" fill="#aa9c70"/><rect x="7" y="26" width="1" height="1" fill="#767aa0"/><rect x="15" y="26" width="1" height="1" fill="#aa9c70"/><rect x="16" y="26" width="1" height="1" fill="#aa9c70"/><rect x="18" y="26" width="1" height="1" fill="#aa9c70"/><rect x="22" y="26" width="1" height="1" fill="#767aa0"/><rect x="24" y="26" width="1" height="1" fill="#767aa0"/><rect x="25" y="26" width="1" height="1" fill="#767aa0"/><rect x="30" y="26" width="1" height="1" fill="#767aa0"/><rect x="37" y="26" width="1" height="1" fill="#767aa0"/><rect x="39" y="26" width="1" height="1" fill="#aa9c70"/><rect x="40" y="26" width="1" height="1" fill="#767aa0"/><rect x="41" y="26" width="1" height="1" fill="#767aa0"/><rect x="42" y="26" width="1" height="1" fill="#767aa0"/><rect x="44" y="26" width="1" height="1" fill="#767aa0"/><rect x="46" y="26" width="1" height="1" fill="#767aa0"/><rect x="48" y="26" width="1" height="1" fill="#767aa0"/><rect x="49" y="26" width="1" height="1" fill="#767aa0"/><rect x="51" y="26" width="1" height="1" fill="#aa9c70"/><rect x="53" y="26" width="1" height="1" fill="#aa9c70"/><rect x="54" y="26" width="1" height="1" fill="#767aa0"/><rect x="59" y="26" width="1" height="1" fill="#767aa0"/><rect x="4" y="27" width="1" height="1" fill="#aa9c70"/><rect x="7" y="27" width="1" height="1" fill="#767aa0"/><rect x="8" y="27" width="1" height="1" fill="#767aa0"/><rect x="11" y="27" width="1" height="1" fill="#767aa0"/><rect x="12" y="27" width="1" height="1" fill="#aa9c70"/><rect x="14" y="27" width="1" height="1" fill="#aa9c70"/><rect x="17" y="27" width="1" height="1" fill="#767aa0"/><rect x="22" y="27" width="1" height="1" fill="#767aa0"/><rect x="33" y="27" width="1" height="1" fill="#aa9c70"/><rect x="34" y="27" width="1" height="1" fill="#767aa0"/><rect x="38" y="27" width="1" height="1" fill="#aa9c70"/><rect x="43" y="27" width="1" height="1" fill="#aa9c70"/><rect x="51" y="27" width="1" height="1" fill="#aa9c70"/><rect x="52" y="27" width="1" height="1" fill="#767aa0"/><rect x="53" y="27" width="1" height="1" fill="#aa9c70"/><rect x="58" y="27" width="1" height="1" fill="#767aa0"/><rect x="3" y="28" width="1" height="1" fill="#aa9c70"/><rect x="9" y="28" width="1" height="1" fill="#767aa0"/><rect x="12" y="28" width="1" height="1" fill="#aa9c70"/><rect x="15" y="28" width="1" height="1" fill="#aa9c70"/><rect x="19" y="28" width="1" height="1" fill="#aa9c70"/><rect x="20" y="28" width="1" height="1" fill="#aa9c70"/><rect x="24" y="28" width="1" height="1" fill="#767aa0"/><rect x="27" y="28" width="1" height="1" fill="#aa9c70"/><rect x="34" y="28" width="1" height="1" fill="#aa9c70"/><rect x="35" y="28" width="1" height="1" fill="#aa9c70"/><rect x="36" y="28" width="1" height="1" fill="#aa9c70"/><rect x="42" y="28" width="1" height="1" fill="#767aa0"/><rect x="43" y="28" width="1" height="1" fill="#767aa0"/><rect x="46" y="28" width="1" height="1" fill="#767aa0"/><rect x="49" y="28" width="1" height="1" fill="#767aa0"/><rect x="53" y="28" width="1" height="1" fill="#767aa0"/><rect x="54" y="28" width="1" height="1" fill="#767aa0"/><rect x="59" y="28" width="1" height="1" fill="#aa9c70"/><rect x="6" y="29" width="1" height="1" fill="#aa9c70"/><rect x="7" y="29" width="1" height="1" fill="#767aa0"/><rect x="8" y="29" width="1" height="1" fill="#aa9c70"/><rect x="9" y="29" width="1" height="1" fill="#aa9c70"/><rect x="10" y="29" width="1" height="1" fill="#767aa0"/><rect x="11" y="29" width="1" height="1" fill="#767aa0"/><rect x="17" y="29" width="1" height="1" fill="#767aa0"/><rect x="20" y="29" width="1" height="1" fill="#767aa0"/><rect x="22" y="29" width="1" height="1" fill="#aa9c70"/><rect x="29" y="29" width="1" height="1" fill="#767aa0"/><rect x="32" y="29" width="1" height="1" fill="#aa9c70"/><rect x="33" y="29" width="1" height="1" fill="#767aa0"/><rect x="34" y="29" width="1" height="1" fill="#aa9c70"/><rect x="39" y="29" width="1" height="1" fill="#767aa0"/><rect x="44" y="29" width="1" height="1" fill="#767aa0"/><rect x="45" y="29" width="1" height="1" fill="#767aa0"/><rect x="49" y="29" width="1" height="1" fill="#aa9c70"/><rect x="52" y="29" width="1" height="1" fill="#767aa0"/><rect x="53" y="29" width="1" height="1" fill="#aa9c70"/><rect x="54" y="29" width="1" height="1" fill="#aa9c70"/><rect x="55" y="29" width="1" height="1" fill="#767aa0"/><rect x="57" y="29" width="1" height="1" fill="#aa9c70"/><rect x="58" y="29" width="1" height="1" fill="#aa9c70"/><rect x="59" y="29" width="1" height="1" fill="#767aa0"/><rect x="1" y="30" width="1" height="1" fill="#767aa0"/><rect x="3" y="30" width="1" height="1" fill="#aa9c70"/><rect x="4" y="30" width="1" height="1" fill="#767aa0"/><rect x="6" y="30" width="1" height="1" fill="#aa9c70"/><rect x="10" y="30" width="1" height="1" fill="#767aa0"/><rect x="12" y="30" width="1" height="1" fill="#767aa0"/><rect x="17" y="30" width="1" height="1" fill="#aa9c70"/><rect x="21" y="30" width="1" height="1" fill="#767aa0"/><rect x="22" y="30" width="1" height="1" fill="#aa9c70"/><rect x="23" y="30" width="1" height="1" fill="#767aa0"/><rect x="26" y="30" width="1" height="1" fill="#767aa0"/><rect x="28" y="30" width="1" height="1" fill="#aa9c70"/><rect x="30" y="30" width="1" height="1" fill="#767aa0"/><rect x="31" y="30" width="1" height="1" fill="#aa9c70"/><rect x="33" y="30" width="1" height="1" fill="#aa9c70"/><rect x="34" y="30" width="1" height="1" fill="#aa9c70"/><rect x="36" y="30" width="1" height="1" fill="#aa9c70"/><rect x="38" y="30" width="1" height="1" fill="#767aa0"/><rect x="40" y="30" width="1" height="1" fill="#767aa0"/><rect x="43" y="30" width="1" height="1" fill="#aa9c70"/><rect x="45" y="30" width="1" height="1" fill="#aa9c70"/><rect x="46" y="30" width="1" height="1" fill="#aa9c70"/><rect x="47" y="30" width="1" height="1" fill="#aa9c70"/><rect x="52" y="30" width="1" height="1" fill="#767aa0"/><rect x="53" y="30" width="1" height="1" fill="#aa9c70"/><rect x="55" y="30" width="1" height="1" fill="#767aa0"/><rect x="57" y="30" width="1" height="1" fill="#aa9c70"/><rect x="59" y="30" width="1" height="1" fill="#767aa0"/><rect x="2" y="31" width="1" height="1" fill="#767aa0"/><rect x="3" y="31" width="1" height="1" fill="#767aa0"/><rect x="6" y="31" width="1" height="1" fill="#aa9c70"/><rect x="9" y="31" width="1" height="1" fill="#aa9c70"/><rect x="11" y="31" width="1" height="1" fill="#767aa0"/><rect x="12" y="31" width="1" height="1" fill="#aa9c70"/><rect x="15" y="31" width="1" height="1" fill="#aa9c70"/><rect x="16" y="31" width="1" height="1" fill="#767aa0"/><rect x="17" y="31" width="1" height="1" fill="#767aa0"/><rect x="20" y="31" width="1" height="1" fill="#aa9c70"/><rect x="21" y="31" width="1" height="1" fill="#aa9c70"/><rect x="26" y="31" width="1" height="1" fill="#aa9c70"/><rect x="27" y="31" width="1" height="1" fill="#767aa0"/><rect x="31" y="31" width="1" height="1" fill="#767aa0"/><rect x="33" y="31" width="1" height="1" fill="#aa9c70"/><rect x="37" y="31" width="1" height="1" fill="#767aa0"/><rect x="41" y="31" width="1" height="1" fill="#aa9c70"/><rect x="42" y="31" width="1" height="1" fill="#aa9c70"/><rect x="45" y="31" width="1" height="1" fill="#aa9c70"/><rect x="48" y="31" width="1" height="1" fill="#767aa0"/><rect x="52" y="31" width="1" height="1" fill="#767aa0"/><rect x="56" y="31" width="1" height="1" fill="#aa9c70"/><rect x="0" y="32" width="1" height="1" fill="#767aa0"/><rect x="7" y="32" width="1" height="1" fill="#767aa0"/><rect x="9" y="32" width="1" height="1" fill="#aa9c70"/><rect x="10" y="32" width="1" height="1" fill="#aa9c70"/><rect x="11" y="32" width="1" height="1" fill="#767aa0"/><rect x="12" y="32" width="1" height="1" fill="#aa9c70"/><rect x="14" y="32" width="1" height="1" fill="#767aa0"/><rect x="15" y="32" width="1" height="1" fill="#767aa0"/><rect x="17" y="32" width="1" height="1" fill="#aa9c70"/><rect x="18" y="32" width="1" height="1" fill="#767aa0"/><rect x="23" y="32" width="1" height="1" fill="#767aa0"/><rect x="26" y="32" width="1" height="1" fill="#767aa0"/><rect x="27" y="32" width="1" height="1" fill="#767aa0"/><rect x="30" y="32" width="1" height="1" fill="#aa9c70"/><rect x="31" y="32" width="1" height="1" fill="#767aa0"/><rect x="33" y="32" width="1" height="1" fill="#767aa0"/><rect x="36" y="32" width="1" height="1" fill="#767aa0"/><rect x="39" y="32" width="1" height="1" fill="#aa9c70"/><rect x="49" y="32" width="1" height="1" fill="#aa9c70"/><rect x="50" y="32" width="1" height="1" fill="#aa9c70"/><rect x="51" y="32" width="1" height="1" fill="#aa9c70"/><rect x="58" y="32" width="1" height="1" fill="#767aa0"/><rect x="2" y="33" width="1" height="1" fill="#aa9c70"/><rect x="7" y="33" width="1" height="1" fill="#767aa0"/><rect x="10" y="33" width="1" height="1" fill="#767aa0"/><rect x="11" y="33" width="1" height="1" fill="#767aa0"/><rect x="19" y="33" width="1" height="1" fill="#767aa0"/><rect x="21" y="33" width="1" height="1" fill="#aa9c70"/><rect x="23" y="33" width="1" height="1" fill="#aa9c70"/><rect x="27" y="33" width="1" height="1" fill="#aa9c70"/><rect x="31" y="33" width="1" height="1" fill="#aa9c70"/><rect x="32" y="33" width="1" height="1" fill="#aa9c70"/><rect x="34" y="33" width="1" height="1" fill="#767aa0"/><rect x="38" y="33" width="1" height="1" fill="#aa9c70"/><rect x="41" y="33" width="1" height="1" fill="#767aa0"/><rect x="42" y="33" width="1" height="1" fill="#767aa0"/><rect x="43" y="33" width="1" height="1" fill="#767aa0"/><rect x="44" y="33" width="1" height="1" fill="#aa9c70"/><rect x="46" y="33" width="1" height="1" fill="#aa9c70"/><rect x="47" y="33" width="1" height="1" fill="#aa9c70"/><rect x="48" y="33" width="1" height="1" fill="#767aa0"/><rect x="54" y="33" width="1" height="1" fill="#aa9c70"/><rect x="0" y="34" width="1" height="1" fill="#aa9c70"/><rect x="1" y="34" width="1" height="1" fill="#aa9c70"/><rect x="2" y="34" width="1" height="1" fill="#aa9c70"/><rect x="6" y="34" width="1" height="1" fill="#767aa0"/><rect x="9" y="34" width="1" height="1" fill="#aa9c70"/><rect x="12" y="34" width="1" height="1" fill="#aa9c70"/><rect x="14" y="34" width="1" height="1" fill="#aa9c70"/><rect x="16" y="34" width="1" height="1" fill="#767aa0"/><rect x="17" y="34" width="1" height="1" fill="#767aa0"/><rect x="20" y="34" width="1" height="1" fill="#767aa0"/><rect x="24" y="34" width="1" height="1" fill="#767aa0"/><rect x="25" y="34" width="1" height="1" fill="#aa9c70"/><rect x="28" y="34" width="1" height="1" fill="#767aa0"/><rect x="29" y="34" width="1" height="1" fill="#aa9c70"/><rect x="43" y="34" width="1" height="1" fill="#767aa0"/><rect x="45" y="34" width="1" height="1" fill="#767aa0"/><rect x="59" y="34" width="1" height="1" fill="#aa9c70"/><rect x="3" y="35" width="1" height="1" fill="#aa9c70"/><rect x="8" y="35" width="1" height="1" fill="#aa9c70"/><rect x="9" y="35" width="1" height="1" fill="#aa9c70"/><rect x="10" y="35" width="1" height="1" fill="#767aa0"/><rect x="13" y="35" width="1" height="1" fill="#767aa0"/><rect x="15" y="35" width="1" height="1" fill="#aa9c70"/><rect x="19" y="35" width="1" height="1" fill="#aa9c70"/><rect x="22" y="35" width="1" height="1" fill="#767aa0"/><rect x="23" y="35" width="1" height="1" fill="#767aa0"/><rect x="40" y="35" width="1" height="1" fill="#767aa0"/><rect x="54" y="35" width="1" height="1" fill="#aa9c70"/><rect x="55" y="35" width="1" height="1" fill="#aa9c70"/><rect x="59" y="35" width="1" height="1" fill="#767aa0"/><rect x="6" y="36" width="1" height="1" fill="#767aa0"/><rect x="7" y="36" width="1" height="1" fill="#aa9c70"/><rect x="10" y="36" width="1" height="1" fill="#aa9c70"/><rect x="11" y="36" width="1" height="1" fill="#aa9c70"/><rect x="17" y="36" width="1" height="1" fill="#767aa0"/><rect x="20" y="36" width="1" height="1" fill="#aa9c70"/><rect x="22" y="36" width="1" height="1" fill="#767aa0"/><rect x="23" y="36" width="1" height="1" fill="#aa9c70"/><rect x="27" y="36" width="1" height="1" fill="#aa9c70"/><rect x="30" y="36" width="1" height="1" fill="#aa9c70"/><rect x="36" y="36" width="1" height="1" fill="#767aa0"/><rect x="37" y="36" width="1" height="1" fill="#767aa0"/><rect x="39" y="36" width="1" height="1" fill="#767aa0"/><rect x="40" y="36" width="1" height="1" fill="#767aa0"/><rect x="41" y="36" width="1" height="1" fill="#aa9c70"/><rect x="46" y="36" width="1" height="1" fill="#767aa0"/><rect x="47" y="36" width="1" height="1" fill="#767aa0"/><rect x="49" y="36" width="1" height="1" fill="#aa9c70"/><rect x="52" y="36" width="1" height="1" fill="#aa9c70"/><rect x="53" y="36" width="1" height="1" fill="#aa9c70"/><rect x="54" y="36" width="1" height="1" fill="#767aa0"/><rect x="0" y="37" width="1" height="1" fill="#767aa0"/><rect x="6" y="37" width="1" height="1" fill="#aa9c70"/><rect x="7" y="37" width="1" height="1" fill="#767aa0"/><rect x="10" y="37" width="1" height="1" fill="#aa9c70"/><rect x="13" y="37" width="1" height="1" fill="#aa9c70"/><rect x="18" y="37" width="1" height="1" fill="#aa9c70"/><rect x="21" y="37" width="1" height="1" fill="#aa9c70"/><rect x="22" y="37" width="1" height="1" fill="#aa9c70"/><rect x="26" y="37" width="1" height="1" fill="#aa9c70"/><rect x="27" y="37" width="1" height="1" fill="#aa9c70"/><rect x="29" y="37" width="1" height="1" fill="#aa9c70"/><rect x="31" y="37" width="1" height="1" fill="#aa9c70"/><rect x="33" y="37" width="1" height="1" fill="#767aa0"/><rect x="37" y="37" width="1" height="1" fill="#767aa0"/><rect x="38" y="37" width="1" height="1" fill="#767aa0"/><rect x="41" y="37" width="1" height="1" fill="#aa9c70"/><rect x="42" y="37" width="1" height="1" fill="#aa9c70"/><rect x="43" y="37" width="1" height="1" fill="#aa9c70"/><rect x="44" y="37" width="1" height="1" fill="#aa9c70"/><rect x="45" y="37" width="1" height="1" fill="#767aa0"/><rect x="48" y="37" width="1" height="1" fill="#767aa0"/><rect x="50" y="37" width="1" height="1" fill="#767aa0"/><rect x="51" y="37" width="1" height="1" fill="#aa9c70"/><rect x="53" y="37" width="1" height="1" fill="#767aa0"/><rect x="57" y="37" width="1" height="1" fill="#767aa0"/><rect x="2" y="38" width="1" height="1" fill="#aa9c70"/><rect x="5" y="38" width="1" height="1" fill="#aa9c70"/><rect x="7" y="38" width="1" height="1" fill="#767aa0"/><rect x="9" y="38" width="1" height="1" fill="#aa9c70"/><rect x="13" y="38" width="1" height="1" fill="#aa9c70"/><rect x="15" y="38" width="1" height="1" fill="#aa9c70"/><rect x="17" y="38" width="1" height="1" fill="#767aa0"/><rect x="20" y="38" width="1" height="1" fill="#aa9c70"/><rect x="25" y="38" width="1" height="1" fill="#aa9c70"/><rect x="27" y="38" width="1" height="1" fill="#767aa0"/><rect x="28" y="38" width="1" height="1" fill="#aa9c70"/><rect x="30" y="38" width="1" height="1" fill="#aa9c70"/><rect x="32" y="38" width="1" height="1" fill="#767aa0"/><rect x="36" y="38" width="1" height="1" fill="#aa9c70"/><rect x="37" y="38" width="1" height="1" fill="#767aa0"/><rect x="38" y="38" width="1" height="1" fill="#aa9c70"/><rect x="39" y="38" width="1" height="1" fill="#aa9c70"/><rect x="40" y="38" width="1" height="1" fill="#767aa0"/><rect x="42" y="38" width="1" height="1" fill="#aa9c70"/><rect x="48" y="38" width="1" height="1" fill="#767aa0"/><rect x="49" y="38" width="1" height="1" fill="#aa9c70"/><rect x="50" y="38" width="1" height="1" fill="#767aa0"/><rect x="57" y="38" width="1" height="1" fill="#aa9c70"/><rect x="1" y="39" width="1" height="1" fill="#aa9c70"/><rect x="2" y="39" width="1" height="1" fill="#767aa0"/><rect x="6" y="39" width="1" height="1" fill="#767aa0"/><rect x="7" y="39" width="1" height="1" fill="#767aa0"/><rect x="8" y="39" width="1" height="1" fill="#aa9c70"/><rect x="9" y="39" width="1" height="1" fill="#aa9c70"/><rect x="10" y="39" width="1" height="1" fill="#aa9c70"/><rect x="12" y="39" width="1" height="1" fill="#767aa0"/><rect x="13" y="39" width="1" height="1" fill="#aa9c70"/><rect x="15" y="39" width="1" height="1" fill="#aa9c70"/><rect x="19" y="39" width="1" height="1" fill="#aa9c70"/><rect x="23" y="39" width="1" height="1" fill="#767aa0"/><rect x="26" y="39" width="1" height="1" fill="#aa9c70"/><rect x="27" y="39" width="1" height="1" fill="#767aa0"/><rect x="30" y="39" width="1" height="1" fill="#767aa0"/><rect x="31" y="39" width="1" height="1" fill="#aa9c70"/><rect x="32" y="39" width="1" height="1" fill="#767aa0"/><rect x="34" y="39" width="1" height="1" fill="#aa9c70"/><rect x="37" y="39" width="1" height="1" fill="#767aa0"/><rect x="42" y="39" width="1" height="1" fill="#aa9c70"/><rect x="43" y="39" width="1" height="1" fill="#767aa0"/><rect x="52" y="39" width="1" height="1" fill="#767aa0"/><rect x="57" y="39" width="1" height="1" fill="#767aa0"/><rect x="59" y="39" width="1" height="1" fill="#767aa0"/><rect x="2" y="40" width="1" height="1" fill="#aa9c70"/><rect x="7" y="40" width="1" height="1" fill="#aa9c70"/><rect x="8" y="40" width="1" height="1" fill="#767aa0"/><rect x="11" y="40" width="1" height="1" fill="#aa9c70"/><rect x="12" y="40" width="1" height="1" fill="#aa9c70"/><rect x="13" y="40" width="1" height="1" fill="#767aa0"/><rect x="16" y="40" width="1" height="1" fill="#aa9c70"/><rect x="17" y="40" width="1" height="1" fill="#aa9c70"/><rect x="22" y="40" width="1" height="1" fill="#aa9c70"/><rect x="24" y="40" width="1" height="1" fill="#767aa0"/><rect x="26" y="40" width="1" height="1" fill="#aa9c70"/><rect x="30" y="40" width="1" height="1" fill="#aa9c70"/><rect x="36" y="40" width="1" height="1" fill="#767aa0"/><rect x="37" y="40" width="1" height="1" fill="#aa9c70"/><rect x="39" y="40" width="1" height="1" fill="#aa9c70"/><rect x="40" y="40" width="1" height="1" fill="#767aa0"/><rect x="41" y="40" width="1" height="1" fill="#aa9c70"/><rect x="42" y="40" width="1" height="1" fill="#aa9c70"/><rect x="45" y="40" width="1" height="1" fill="#767aa0"/><rect x="46" y="40" width="1" height="1" fill="#aa9c70"/><rect x="49" y="40" width="1" height="1" fill="#aa9c70"/><rect x="50" y="40" width="1" height="1" fill="#767aa0"/><rect x="51" y="40" width="1" height="1" fill="#767aa0"/><rect x="54" y="40" width="1" height="1" fill="#767aa0"/><rect x="58" y="40" width="1" height="1" fill="#767aa0"/><rect x="1" y="41" width="1" height="1" fill="#aa9c70"/><rect x="3" y="41" width="1" height="1" fill="#767aa0"/><rect x="9" y="41" width="1" height="1" fill="#aa9c70"/><rect x="10" y="41" width="1" height="1" fill="#aa9c70"/><rect x="11" y="41" width="1" height="1" fill="#767aa0"/><rect x="12" y="41" width="1" height="1" fill="#767aa0"/><rect x="15" y="41" width="1" height="1" fill="#aa9c70"/><rect x="16" y="41" width="1" height="1" fill="#aa9c70"/><rect x="20" y="41" width="1" height="1" fill="#aa9c70"/><rect x="24" y="41" width="1" height="1" fill="#aa9c70"/><rect x="25" y="41" width="1" height="1" fill="#aa9c70"/><rect x="27" y="41" width="1" height="1" fill="#aa9c70"/><rect x="32" y="41" width="1" height="1" fill="#aa9c70"/><rect x="33" y="41" width="1" height="1" fill="#767aa0"/><rect x="42" y="41" width="1" height="1" fill="#767aa0"/><rect x="43" y="41" width="1" height="1" fill="#aa9c70"/><rect x="45" y="41" width="1" height="1" fill="#767aa0"/><rect x="47" y="41" width="1" height="1" fill="#aa9c70"/><rect x="50" y="41" width="1" height="1" fill="#767aa0"/><rect x="51" y="41" width="1" height="1" fill="#767aa0"/><rect x="53" y="41" width="1" height="1" fill="#aa9c70"/><rect x="55" y="41" width="1" height="1" fill="#767aa0"/><rect x="0" y="42" width="1" height="1" fill="#aa9c70"/><rect x="4" y="42" width="1" height="1" fill="#aa9c70"/><rect x="9" y="42" width="1" height="1" fill="#aa9c70"/><rect x="10" y="42" width="1" height="1" fill="#aa9c70"/><rect x="14" y="42" width="1" height="1" fill="#aa9c70"/><rect x="15" y="42" width="1" height="1" fill="#767aa0"/><rect x="16" y="42" width="1" height="1" fill="#aa9c70"/><rect x="25" y="42" width="1" height="1" fill="#767aa0"/><rect x="28" y="42" width="1" height="1" fill="#aa9c70"/><rect x="33" y="42" width="1" height="1" fill="#aa9c70"/><rect x="36" y="42" width="1" height="1" fill="#767aa0"/><rect x="37" y="42" width="1" height="1" fill="#aa9c70"/><rect x="40" y="42" width="1" height="1" fill="#767aa0"/><rect x="48" y="42" width="1" height="1" fill="#767aa0"/><rect x="49" y="42" width="1" height="1" fill="#aa9c70"/><rect x="52" y="42" width="1" height="1" fill="#767aa0"/><rect x="54" y="42" width="1" height="1" fill="#aa9c70"/><rect x="55" y="42" width="1" height="1" fill="#767aa0"/><rect x="57" y="42" width="1" height="1" fill="#aa9c70"/><rect x="0" y="43" width="1" height="1" fill="#aa9c70"/><rect x="2" y="43" width="1" height="1" fill="#767aa0"/><rect x="5" y="43" width="1" height="1" fill="#767aa0"/><rect x="7" y="43" width="1" height="1" fill="#767aa0"/><rect x="13" y="43" width="1" height="1" fill="#767aa0"/><rect x="16" y="43" width="1" height="1" fill="#767aa0"/><rect x="19" y="43" width="1" height="1" fill="#aa9c70"/><rect x="23" y="43" width="1" height="1" fill="#767aa0"/><rect x="25" y="43" width="1" height="1" fill="#767aa0"/><rect x="26" y="43" width="1" height="1" fill="#aa9c70"/><rect x="28" y="43" width="1" height="1" fill="#767aa0"/><rect x="30" y="43" width="1" height="1" fill="#aa9c70"/><rect x="31" y="43" width="1" height="1" fill="#aa9c70"/><rect x="40" y="43" width="1" height="1" fill="#aa9c70"/><rect x="46" y="43" width="1" height="1" fill="#767aa0"/><rect x="51" y="43" width="1" height="1" fill="#767aa0"/><rect x="53" y="43" width="1" height="1" fill="#767aa0"/><rect x="56" y="43" width="1" height="1" fill="#767aa0"/><rect x="59" y="43" width="1" height="1" fill="#aa9c70"/><rect x="0" y="44" width="1" height="1" fill="#aa9c70"/><rect x="4" y="44" width="1" height="1" fill="#767aa0"/><rect x="5" y="44" width="1" height="1" fill="#767aa0"/><rect x="6" y="44" width="1" height="1" fill="#767aa0"/><rect x="8" y="44" width="1" height="1" fill="#aa9c70"/><rect x="10" y="44" width="1" height="1" fill="#aa9c70"/><rect x="13" y="44" width="1" height="1" fill="#767aa0"/><rect x="19" y="44" width="1" height="1" fill="#767aa0"/><rect x="21" y="44" width="1" height="1" fill="#767aa0"/><rect x="25" y="44" width="1" height="1" fill="#767aa0"/><rect x="26" y="44" width="1" height="1" fill="#aa9c70"/><rect x="31" y="44" width="1" height="1" fill="#767aa0"/><rect x="36" y="44" width="1" height="1" fill="#767aa0"/><rect x="37" y="44" width="1" height="1" fill="#aa9c70"/><rect x="38" y="44" width="1" height="1" fill="#aa9c70"/><rect x="41" y="44" width="1" height="1" fill="#767aa0"/><rect x="42" y="44" width="1" height="1" fill="#aa9c70"/><rect x="48" y="44" width="1" height="1" fill="#767aa0"/><rect x="50" y="44" width="1" height="1" fill="#aa9c70"/><rect x="51" y="44" width="1" height="1" fill="#767aa0"/><rect x="54" y="44" width="1" height="1" fill="#767aa0"/><rect x="55" y="44" width="1" height="1" fill="#767aa0"/><rect x="57" y="44" width="1" height="1" fill="#aa9c70"/><rect x="58" y="44" width="1" height="1" fill="#aa9c70"/><rect x="0" y="45" width="1" height="1" fill="#aa9c70"/><rect x="5" y="45" width="1" height="1" fill="#767aa0"/><rect x="13" y="45" width="1" height="1" fill="#aa9c70"/><rect x="18" y="45" width="1" height="1" fill="#aa9c70"/><rect x="26" y="45" width="1" height="1" fill="#767aa0"/><rect x="27" y="45" width="1" height="1" fill="#aa9c70"/><rect x="28" y="45" width="1" height="1" fill="#aa9c70"/><rect x="32" y="45" width="1" height="1" fill="#aa9c70"/><rect x="33" y="45" width="1" height="1" fill="#aa9c70"/><rect x="35" y="45" width="1" height="1" fill="#767aa0"/><rect x="36" y="45" width="1" height="1" fill="#767aa0"/><rect x="41" y="45" width="1" height="1" fill="#aa9c70"/><rect x="42" y="45" width="1" height="1" fill="#aa9c70"/><rect x="43" y="45" width="1" height="1" fill="#767aa0"/><rect x="44" y="45" width="1" height="1" fill="#aa9c70"/><rect x="45" y="45" width="1" height="1" fill="#aa9c70"/><rect x="52" y="45" width="1" height="1" fill="#767aa0"/><rect x="53" y="45" width="1" height="1" fill="#aa9c70"/><rect x="0" y="46" width="1" height="1" fill="#767aa0"/><rect x="3" y="46" width="1" height="1" fill="#aa9c70"/><rect x="4" y="46" width="1" height="1" fill="#aa9c70"/><rect x="5" y="46" width="1" height="1" fill="#767aa0"/><rect x="6" y="46" width="1" height="1" fill="#aa9c70"/><rect x="7" y="46" width="1" height="1" fill="#aa9c70"/><rect x="9" y="46" width="1" height="1" fill="#aa9c70"/><rect x="11" y="46" width="1" height="1" fill="#aa9c70"/><rect x="15" y="46" width="1" height="1" fill="#aa9c70"/><rect x="19" y="46" width="1" height="1" fill="#767aa0"/><rect x="23" y="46" width="1" height="1" fill="#767aa0"/><rect x="24" y="46" width="1" height="1" fill="#aa9c70"/><rect x="29" y="46" width="1" height="1" fill="#aa9c70"/><rect x="30" y="46" width="1" height="1" fill="#aa9c70"/><rect x="35" y="46" width="1" height="1" fill="#aa9c70"/><rect x="36" y="46" width="1" height="1" fill="#767aa0"/><rect x="38" y="46" width="1" height="1" fill="#767aa0"/><rect x="40" y="46" width="1" height="1" fill="#aa9c70"/><rect x="43" y="46" width="1" height="1" fill="#aa9c70"/><rect x="45" y="46" width="1" height="1" fill="#767aa0"/><rect x="49" y="46" width="1" height="1" fill="#767aa0"/><rect x="52" y="46" width="1" height="1" fill="#aa9c70"/><rect x="53" y="46" width="1" height="1" fill="#767aa0"/><rect x="54" y="46" width="1" height="1" fill="#767aa0"/><rect x="55" y="46" width="1" height="1" fill="#767aa0"/><rect x="57" y="46" width="1" height="1" fill="#767aa0"/><rect x="5" y="47" width="1" height="1" fill="#aa9c70"/><rect x="7" y="47" width="1" height="1" fill="#aa9c70"/><rect x="11" y="47" width="1" height="1" fill="#aa9c70"/><rect x="15" y="47" width="1" height="1" fill="#aa9c70"/><rect x="18" y="47" width="1" height="1" fill="#767aa0"/><rect x="19" y="47" width="1" height="1" fill="#767aa0"/><rect x="25" y="47" width="1" height="1" fill="#aa9c70"/><rect x="27" y="47" width="1" height="1" fill="#767aa0"/><rect x="28" y="47" width="1" height="1" fill="#767aa0"/><rect x="29" y="47" width="1" height="1" fill="#767aa0"/><rect x="30" y="47" width="1" height="1" fill="#767aa0"/><rect x="33" y="47" width="1" height="1" fill="#aa9c70"/><rect x="36" y="47" width="1" height="1" fill="#767aa0"/><rect x="37" y="47" width="1" height="1" fill="#aa9c70"/><rect x="40" y="47" width="1" height="1" fill="#aa9c70"/><rect x="41" y="47" width="1" height="1" fill="#767aa0"/><rect x="43" y="47" width="1" height="1" fill="#aa9c70"/><rect x="50" y="47" width="1" height="1" fill="#aa9c70"/><rect x="52" y="47" width="1" height="1" fill="#767aa0"/><rect x="54" y="47" width="1" height="1" fill="#767aa0"/><rect x="58" y="47" width="1" height="1" fill="#767aa0"/><rect x="4" y="48" width="1" height="1" fill="#aa9c70"/><rect x="5" y="48" width="1" height="1" fill="#aa9c70"/><rect x="6" y="48" width="1" height="1" fill="#aa9c70"/><rect x="8" y="48" width="1" height="1" fill="#aa9c70"/><rect x="9" y="48" width="1" height="1" fill="#aa9c70"/><rect x="12" y="48" width="1" height="1" fill="#aa9c70"/><rect x="14" y="48" width="1" height="1" fill="#aa9c70"/><rect x="16" y="48" width="1" height="1" fill="#767aa0"/><rect x="19" y="48" width="1" height="1" fill="#aa9c70"/><rect x="22" y="48" width="1" height="1" fill="#aa9c70"/><rect x="23" y="48" width="1" height="1" fill="#aa9c70"/><rect x="26" y="48" width="1" height="1" fill="#aa9c70"/><rect x="32" y="48" width="1" height="1" fill="#aa9c70"/><rect x="37" y="48" width="1" height="1" fill="#aa9c70"/><rect x="40" y="48" width="1" height="1" fill="#aa9c70"/><rect x="41" y="48" width="1" height="1" fill="#767aa0"/><rect x="42" y="48" width="1" height="1" fill="#767aa0"/><rect x="44" y="48" width="1" height="1" fill="#767aa0"/><rect x="46" y="48" width="1" height="1" fill="#767aa0"/><rect x="48" y="48" width="1" height="1" fill="#767aa0"/><rect x="49" y="48" width="1" height="1" fill="#aa9c70"/><rect x="51" y="48" width="1" height="1" fill="#767aa0"/><rect x="52" y="48" width="1" height="1" fill="#aa9c70"/><rect x="57" y="48" width="1" height="1" fill="#767aa0"/><rect x="58" y="48" width="1" height="1" fill="#aa9c70"/><rect x="1" y="49" width="1" height="1" fill="#767aa0"/><rect x="3" y="49" width="1" height="1" fill="#aa9c70"/><rect x="5" y="49" width="1" height="1" fill="#767aa0"/><rect x="6" y="49" width="1" height="1" fill="#767aa0"/><rect x="8" y="49" width="1" height="1" fill="#aa9c70"/><rect x="10" y="49" width="1" height="1" fill="#767aa0"/><rect x="12" y="49" width="1" height="1" fill="#767aa0"/><rect x="14" y="49" width="1" height="1" fill="#aa9c70"/><rect x="16" y="49" width="1" height="1" fill="#767aa0"/><rect x="19" y="49" width="1" height="1" fill="#767aa0"/><rect x="24" y="49" width="1" height="1" fill="#aa9c70"/><rect x="28" y="49" width="1" height="1" fill="#aa9c70"/><rect x="29" y="49" width="1" height="1" fill="#aa9c70"/><rect x="30" y="49" width="1" height="1" fill="#aa9c70"/><rect x="31" y="49" width="1" height="1" fill="#767aa0"/><rect x="32" y="49" width="1" height="1" fill="#767aa0"/><rect x="37" y="49" width="1" height="1" fill="#767aa0"/><rect x="47" y="49" width="1" height="1" fill="#aa9c70"/><rect x="53" y="49" width="1" height="1" fill="#767aa0"/><rect x="55" y="49" width="1" height="1" fill="#767aa0"/><rect x="58" y="49" width="1" height="1" fill="#aa9c70"/><rect x="1" y="50" width="1" height="1" fill="#aa9c70"/><rect x="2" y="50" width="1" height="1" fill="#aa9c70"/><rect x="3" y="50" width="1" height="1" fill="#767aa0"/><rect x="7" y="50" width="1" height="1" fill="#767aa0"/><rect x="9" y="50" width="1" height="1" fill="#aa9c70"/><rect x="12" y="50" width="1" height="1" fill="#aa9c70"/><rect x="14" y="50" width="1" height="1" fill="#767aa0"/><rect x="20" y="50" width="1" height="1" fill="#aa9c70"/><rect x="29" y="50" width="1" height="1" fill="#aa9c70"/><rect x="32" y="50" width="1" height="1" fill="#aa9c70"/><rect x="34" y="50" width="1" height="1" fill="#aa9c70"/><rect x="40" y="50" width="1" height="1" fill="#aa9c70"/><rect x="41" y="50" width="1" height="1" fill="#767aa0"/><rect x="47" y="50" width="1" height="1" fill="#aa9c70"/><rect x="48" y="50" width="1" height="1" fill="#aa9c70"/><rect x="55" y="50" width="1" height="1" fill="#767aa0"/><rect x="59" y="50" width="1" height="1" fill="#767aa0"/><rect x="0" y="51" width="1" height="1" fill="#767aa0"/><rect x="1" y="51" width="1" height="1" fill="#aa9c70"/><rect x="2" y="51" width="1" height="1" fill="#767aa0"/><rect x="7" y="51" width="1" height="1" fill="#767aa0"/><rect x="15" y="51" width="1" height="1" fill="#767aa0"/><rect x="19" y="51" width="1" height="1" fill="#aa9c70"/><rect x="23" y="51" width="1" height="1" fill="#767aa0"/><rect x="24" y="51" width="1" height="1" fill="#aa9c70"/><rect x="26" y="51" width="1" height="1" fill="#767aa0"/><rect x="27" y="51" width="1" height="1" fill="#aa9c70"/><rect x="29" y="51" width="1" height="1" fill="#aa9c70"/><rect x="30" y="51" width="1" height="1" fill="#aa9c70"/><rect x="31" y="51" width="1" height="1" fill="#aa9c70"/><rect x="33" y="51" width="1" height="1" fill="#767aa0"/><rect x="36" y="51" width="1" height="1" fill="#aa9c70"/><rect x="41" y="51" width="1" height="1" fill="#767aa0"/><rect x="45" y="51" width="1" height="1" fill="#aa9c70"/><rect x="53" y="51" width="1" height="1" fill="#aa9c70"/><rect x="58" y="51" width="1" height="1" fill="#aa9c70"/><rect x="59" y="51" width="1" height="1" fill="#767aa0"/><rect x="6" y="52" width="1" height="1" fill="#767aa0"/><rect x="21" y="52" width="1" height="1" fill="#767aa0"/><rect x="26" y="52" width="1" height="1" fill="#767aa0"/><rect x="27" y="52" width="1" height="1" fill="#aa9c70"/><rect x="28" y="52" width="1" height="1" fill="#767aa0"/><rect x="30" y="52" width="1" height="1" fill="#767aa0"/><rect x="31" y="52" width="1" height="1" fill="#767aa0"/><rect x="34" y="52" width="1" height="1" fill="#767aa0"/><rect x="38" y="52" width="1" height="1" fill="#767aa0"/><rect x="45" y="52" width="1" height="1" fill="#767aa0"/><rect x="46" y="52" width="1" height="1" fill="#aa9c70"/><rect x="48" y="52" width="1" height="1" fill="#767aa0"/><rect x="50" y="52" width="1" height="1" fill="#aa9c70"/><rect x="51" y="52" width="1" height="1" fill="#aa9c70"/><rect x="52" y="52" width="1" height="1" fill="#aa9c70"/><rect x="53" y="52" width="1" height="1" fill="#aa9c70"/><rect x="58" y="52" width="1" height="1" fill="#767aa0"/><rect x="59" y="52" width="1" height="1" fill="#aa9c70"/><rect x="3" y="53" width="1" height="1" fill="#aa9c70"/><rect x="4" y="53" width="1" height="1" fill="#aa9c70"/><rect x="5" y="53" width="1" height="1" fill="#767aa0"/><rect x="13" y="53" width="1" height="1" fill="#aa9c70"/><rect x="16" y="53" width="1" height="1" fill="#767aa0"/><rect x="17" y="53" width="1" height="1" fill="#aa9c70"/><rect x="21" y="53" width="1" height="1" fill="#aa9c70"/><rect x="22" y="53" width="1" height="1" fill="#aa9c70"/><rect x="24" y="53" width="1" height="1" fill="#aa9c70"/><rect x="32" y="53" width="1" height="1" fill="#767aa0"/><rect x="35" y="53" width="1" height="1" fill="#767aa0"/><rect x="37" y="53" width="1" height="1" fill="#767aa0"/><rect x="39" y="53" width="1" height="1" fill="#aa9c70"/><rect x="46" y="53" width="1" height="1" fill="#aa9c70"/><rect x="47" y="53" width="1" height="1" fill="#aa9c70"/><rect x="49" y="53" width="1" height="1" fill="#767aa0"/><rect x="51" y="53" width="1" height="1" fill="#aa9c70"/><rect x="52" y="53" width="1" height="1" fill="#767aa0"/><rect x="53" y="53" width="1" height="1" fill="#767aa0"/><rect x="58" y="53" width="1" height="1" fill="#aa9c70"/><rect x="1" y="54" width="1" height="1" fill="#767aa0"/><rect x="2" y="54" width="1" height="1" fill="#767aa0"/><rect x="4" y="54" width="1" height="1" fill="#767aa0"/><rect x="6" y="54" width="1" height="1" fill="#aa9c70"/><rect x="7" y="54" width="1" height="1" fill="#aa9c70"/><rect x="9" y="54" width="1" height="1" fill="#aa9c70"/><rect x="11" y="54" width="1" height="1" fill="#767aa0"/><rect x="13" y="54" width="1" height="1" fill="#aa9c70"/><rect x="15" y="54" width="1" height="1" fill="#767aa0"/><rect x="19" y="54" width="1" height="1" fill="#767aa0"/><rect x="22" y="54" width="1" height="1" fill="#aa9c70"/><rect x="24" y="54" width="1" height="1" fill="#767aa0"/><rect x="29" y="54" width="1" height="1" fill="#767aa0"/><rect x="31" y="54" width="1" height="1" fill="#767aa0"/><rect x="36" y="54" width="1" height="1" fill="#aa9c70"/><rect x="41" y="54" width="1" height="1" fill="#767aa0"/><rect x="46" y="54" width="1" height="1" fill="#767aa0"/><rect x="47" y="54" width="1" height="1" fill="#767aa0"/><rect x="48" y="54" width="1" height="1" fill="#aa9c70"/><rect x="51" y="54" width="1" height="1" fill="#aa9c70"/><rect x="53" y="54" width="1" height="1" fill="#767aa0"/><rect x="59" y="54" width="1" height="1" fill="#767aa0"/><rect x="0" y="55" width="1" height="1" fill="#aa9c70"/><rect x="2" y="55" width="1" height="1" fill="#aa9c70"/><rect x="4" y="55" width="1" height="1" fill="#aa9c70"/><rect x="6" y="55" width="1" height="1" fill="#aa9c70"/><rect x="7" y="55" width="1" height="1" fill="#767aa0"/><rect x="9" y="55" width="1" height="1" fill="#767aa0"/><rect x="14" y="55" width="1" height="1" fill="#767aa0"/><rect x="16" y="55" width="1" height="1" fill="#767aa0"/><rect x="18" y="55" width="1" height="1" fill="#767aa0"/><rect x="23" y="55" width="1" height="1" fill="#aa9c70"/><rect x="24" y="55" width="1" height="1" fill="#aa9c70"/><rect x="26" y="55" width="1" height="1" fill="#aa9c70"/><rect x="30" y="55" width="1" height="1" fill="#767aa0"/><rect x="31" y="55" width="1" height="1" fill="#767aa0"/><rect x="33" y="55" width="1" height="1" fill="#767aa0"/><rect x="36" y="55" width="1" height="1" fill="#767aa0"/><rect x="38" y="55" width="1" height="1" fill="#aa9c70"/><rect x="42" y="55" width="1" height="1" fill="#aa9c70"/><rect x="44" y="55" width="1" height="1" fill="#aa9c70"/><rect x="45" y="55" width="1" height="1" fill="#767aa0"/><rect x="46" y="55" width="1" height="1" fill="#aa9c70"/><rect x="50" y="55" width="1" height="1" fill="#767aa0"/><rect x="56" y="55" width="1" height="1" fill="#aa9c70"/><rect x="58" y="55" width="1" height="1" fill="#767aa0"/><rect x="59" y="55" width="1" height="1" fill="#aa9c70"/><rect x="0" y="56" width="1" height="1" fill="#767aa0"/><rect x="3" y="56" width="1" height="1" fill="#aa9c70"/><rect x="5" y="56" width="1" height="1" fill="#767aa0"/><rect x="7" y="56" width="1" height="1" fill="#aa9c70"/><rect x="11" y="56" width="1" height="1" fill="#767aa0"/><rect x="12" y="56" width="1" height="1" fill="#aa9c70"/><rect x="15" y="56" width="1" height="1" fill="#767aa0"/><rect x="23" y="56" width="1" height="1" fill="#767aa0"/><rect x="27" y="56" width="1" height="1" fill="#767aa0"/><rect x="28" y="56" width="1" height="1" fill="#aa9c70"/><rect x="31" y="56" width="1" height="1" fill="#767aa0"/><rect x="33" y="56" width="1" height="1" fill="#767aa0"/><rect x="34" y="56" width="1" height="1" fill="#aa9c70"/><rect x="35" y="56" width="1" height="1" fill="#aa9c70"/><rect x="36" y="56" width="1" height="1" fill="#aa9c70"/><rect x="46" y="56" width="1" height="1" fill="#aa9c70"/><rect x="50" y="56" width="1" height="1" fill="#767aa0"/><rect x="53" y="56" width="1" height="1" fill="#aa9c70"/><rect x="57" y="56" width="1" height="1" fill="#767aa0"/><rect x="9" y="57" width="1" height="1" fill="#aa9c70"/><rect x="13" y="57" width="1" height="1" fill="#767aa0"/><rect x="16" y="57" width="1" height="1" fill="#aa9c70"/><rect x="18" y="57" width="1" height="1" fill="#aa9c70"/><rect x="19" y="57" width="1" height="1" fill="#aa9c70"/><rect x="21" y="57" width="1" height="1" fill="#aa9c70"/><rect x="33" y="57" width="1" height="1" fill="#767aa0"/><rect x="36" y="57" width="1" height="1" fill="#aa9c70"/><rect x="40" y="57" width="1" height="1" fill="#767aa0"/><rect x="42" y="57" width="1" height="1" fill="#767aa0"/><rect x="43" y="57" width="1" height="1" fill="#767aa0"/><rect x="48" y="57" width="1" height="1" fill="#aa9c70"/><rect x="49" y="57" width="1" height="1" fill="#aa9c70"/><rect x="53" y="57" width="1" height="1" fill="#aa9c70"/><rect x="54" y="57" width="1" height="1" fill="#767aa0"/><rect x="55" y="57" width="1" height="1" fill="#aa9c70"/><rect x="0" y="58" width="1" height="1" fill="#767aa0"/><rect x="2" y="58" width="1" height="1" fill="#767aa0"/><rect x="4" y="58" width="1" height="1" fill="#aa9c70"/><rect x="5" y="58" width="1" height="1" fill="#aa9c70"/><rect x="8" y="58" width="1" height="1" fill="#aa9c70"/><rect x="17" y="58" width="1" height="1" fill="#aa9c70"/><rect x="19" y="58" width="1" height="1" fill="#aa9c70"/><rect x="21" y="58" width="1" height="1" fill="#767aa0"/><rect x="22" y="58" width="1" height="1" fill="#aa9c70"/><rect x="26" y="58" width="1" height="1" fill="#aa9c70"/><rect x="28" y="58" width="1" height="1" fill="#767aa0"/><rect x="36" y="58" width="1" height="1" fill="#767aa0"/><rect x="50" y="58" width="1" height="1" fill="#767aa0"/><rect x="59" y="58" width="1" height="1" fill="#767aa0"/><rect x="0" y="59" width="1" height="1" fill="#aa9c70"/><rect x="1" y="59" width="1" height="1" fill="#767aa0"/><rect x="4" y="59" width="1" height="1" fill="#767aa0"/><rect x="7" y="59" width="1" height="1" fill="#767aa0"/><rect x="11" y="59" width="1" height="1" fill="#aa9c70"/><rect x="13" y="59" width="1" height="1" fill="#aa9c70"/><rect x="24" y="59" width="1" height="1" fill="#aa9c70"/><rect x="25" y="59" width="1" height="1" fill="#aa9c70"/><rect x="30" y="59" width="1" height="1" fill="#767aa0"/><rect x="33" y="59" width="1" height="1" fill="#aa9c70"/><rect x="35" y="59" width="1" height="1" fill="#aa9c70"/><rect x="36" y="59" width="1" height="1" fill="#aa9c70"/><rect x="37" y="59" width="1" height="1" fill="#767aa0"/><rect x="38" y="59" width="1" height="1" fill="#aa9c70"/><rect x="42" y="59" width="1" height="1" fill="#aa9c70"/><rect x="43" y="59" width="1" height="1" fill="#aa9c70"/><rect x="45" y="59" width="1" height="1" fill="#aa9c70"/><rect x="46" y="59" width="1" height="1" fill="#aa9c70"/><rect x="48" y="59" width="1" height="1" fill="#767aa0"/><rect x="49" y="59" width="1" height="1" fill="#aa9c70"/><rect x="53" y="59" width="1" height="1" fill="#aa9c70"/><rect x="54" y="59" width="1" height="1" fill="#aa9c70"/></pattern></defs>
<rect x="185.00" y="172.50" width="55.60" height="16.40" fill="#f2766e"/>
<rect x="240.60" y="172.50" width="49.80" height="16.40" fill="#a3a233"/>
<rect x="290.40" y="172.50" width="27.80" height="16.40" fill="#2eb87b"/>
<rect x="318.20" y="172.50" width="13.70" height="16.40" fill="#3ab0e6"/>
<rect x="331.90" y="172.50" width="5.40" height="16.40" fill="#c27bc6"/>
<rect x="337.30" y="172.50" width="31.30" height="16.40" fill="url(#na)"/>
<rect x="185.00" y="190.65" width="38.30" height="16.40" fill="#f2766e"/>
<rect x="223.30" y="190.65" width="37.90" height="16.40" fill="#a3a233"/>
<rect x="261.20" y="190.65" width="29.20" height="16.40" fill="#2eb87b"/>
<rect x="290.40" y="190.65" width="16.90" height="16.40" fill="#3ab0e6"/>
<rect x="307.30" y="190.65" width="8.50" height="16.40" fill="#c27bc6"/>
<rect x="315.80" y="190.65" width="52.80" height="16.40" fill="url(#na)"/>
<rect x="185.00" y="208.80" width="31.80" height="16.40" fill="#f2766e"/>
<rect x="216.80" y="208.80" width="32.60" height="16.40" fill="#a3a233"/>
<rect x="249.40" y="208.80" width="25.80" height="16.40" fill="#2eb87b"/>
<rect x="275.20" y="208.80" width="15.50" height="16.40" fill="#3ab0e6"/>
<rect x="290.70" y="208.80" width="7.50" height="16.40" fill="#c27bc6"/>
<rect x="298.20" y="208.80" width="70.40" height="16.40" fill="url(#na)"/>
<rect x="185.00" y="226.95" width="14.80" height="16.40" fill="#f2766e"/>
<rect x="199.80" y="226.95" width="26.00" height="16.40" fill="#a3a233"/>
<rect x="225.80" y="226.95" width="21.50" height="16.40" fill="#2eb87b"/>
<rect x="247.30" y="226.95" width="12.70" height="16.40" fill="#3ab0e6"/>
<rect x="260.00" y="226.95" width="6.00" height="16.40" fill="#c27bc6"/>
<rect x="266.00" y="226.95" width="102.60" height="16.40" fill="url(#na)"/>
<rect x="185.00" y="245.10" width="14.30" height="16.40" fill="#f2766e"/>
<rect x="199.30" y="245.10" width="31.40" height="16.40" fill="#a3a233"/>
<rect x="230.70" y="245.10" width="31.80" height="16.40" fill="#2eb87b"/>
<rect x="262.50" y="245.10" width="18.30" height="16.40" fill="#3ab0e6"/>
<rect x="280.80" y="245.10" width="8.70" height="16.40" fill="#c27bc6"/>
<rect x="289.50" y="245.10" width="79.10" height="16.40" fill="url(#na)"/>
<rect x="185.00" y="263.25" width="6.90" height="16.40" fill="#f2766e"/>
<rect x="191.90" y="263.25" width="28.10" height="16.40" fill="#a3a233"/>
<rect x="220.00" y="263.25" width="28.80" height="16.40" fill="#2eb87b"/>
<rect x="248.80" y="263.25" width="17.20" height="16.40" fill="#3ab0e6"/>
<rect x="266.00" y="263.25" width="7.40" height="16.40" fill="#c27bc6"/>
<rect x="273.40" y="263.25" width="95.20" height="16.40" fill="url(#na)"/>
<rect x="176.0" y="169.7" width="201.20" height="112.70" fill="none" stroke="#333" stroke-width="0.9"/>
<line x1="174.2" y1="180.7" x2="176.0" y2="180.7" stroke="#333333" stroke-width="0.7"/>
<text x="172.6" y="183.2" text-anchor="end" font-size="7.2" fill="#3a3a3a" stroke="#3a3a3a" stroke-width="0.2">Age</text>
<line x1="174.2" y1="198.85" x2="176.0" y2="198.85" stroke="#333333" stroke-width="0.7"/>
<text x="172.6" y="201.35" text-anchor="end" font-size="7.2" fill="#3a3a3a" stroke="#3a3a3a" stroke-width="0.2">ZnT8A</text>
<line x1="174.2" y1="217.0" x2="176.0" y2="217.0" stroke="#333333" stroke-width="0.7"/>
<text x="172.6" y="219.5" text-anchor="end" font-size="7.2" fill="#3a3a3a" stroke="#3a3a3a" stroke-width="0.2">IAA</text>
<line x1="174.2" y1="235.14999999999998" x2="176.0" y2="235.14999999999998" stroke="#333333" stroke-width="0.7"/>
<text x="172.6" y="237.64999999999998" text-anchor="end" font-size="7.2" fill="#3a3a3a" stroke="#3a3a3a" stroke-width="0.2">IA-2A</text>
<line x1="174.2" y1="253.29999999999998" x2="176.0" y2="253.29999999999998" stroke="#333333" stroke-width="0.7"/>
<text x="172.6" y="255.79999999999998" text-anchor="end" font-size="7.2" fill="#3a3a3a" stroke="#3a3a3a" stroke-width="0.2">GADA</text>
<line x1="174.2" y1="271.45" x2="176.0" y2="271.45" stroke="#333333" stroke-width="0.7"/>
<text x="172.6" y="273.95" text-anchor="end" font-size="7.2" fill="#3a3a3a" stroke="#3a3a3a" stroke-width="0.2">GRS2</text>
<line x1="185.0" y1="282.4" x2="185.0" y2="284.2" stroke="#333333" stroke-width="0.7"/>
<text x="185.0" y="291.7" text-anchor="middle" font-size="7.4" fill="#3a3a3a" stroke="#3a3a3a" stroke-width="0.2">0</text>
<line x1="231.05" y1="282.4" x2="231.05" y2="284.2" stroke="#333333" stroke-width="0.7"/>
<text x="231.05" y="291.7" text-anchor="middle" font-size="7.4" fill="#3a3a3a" stroke="#3a3a3a" stroke-width="0.2">250</text>
<line x1="277.1" y1="282.4" x2="277.1" y2="284.2" stroke="#333333" stroke-width="0.7"/>
<text x="277.1" y="291.7" text-anchor="middle" font-size="7.4" fill="#3a3a3a" stroke="#3a3a3a" stroke-width="0.2">500</text>
<line x1="323.15" y1="282.4" x2="323.15" y2="284.2" stroke="#333333" stroke-width="0.7"/>
<text x="323.15" y="291.7" text-anchor="middle" font-size="7.4" fill="#3a3a3a" stroke="#3a3a3a" stroke-width="0.2">750</text>
<line x1="369.2" y1="282.4" x2="369.2" y2="284.2" stroke="#333333" stroke-width="0.7"/>
<text x="369.2" y="291.7" text-anchor="middle" font-size="7.4" fill="#3a3a3a" stroke="#3a3a3a" stroke-width="0.2">1000</text>
<text x="274.0" y="302.4" text-anchor="middle" font-size="7.9" fill="#000" stroke="#000" stroke-width="0.06">Number of trees</text>
<line x1="185.0" y1="180.7" x2="197.4" y2="180.7" stroke="#000" stroke-width="1.35"/>
<line x1="185.0" y1="173.5" x2="185.0" y2="187.89999999999998" stroke="#000" stroke-width="1.4"/>
<line x1="197.4" y1="173.5" x2="197.4" y2="187.89999999999998" stroke="#000" stroke-width="1.4"/>
<rect x="186.30" y="175.60" width="19.4" height="10.2" rx="1.6" fill="#fff" stroke="#444" stroke-width="0.75"/>
<text x="196.0" y="183.2" text-anchor="middle" font-size="7.0" fill="#111" stroke="#111" stroke-width="0.2">1.10</text>
<line x1="185.0" y1="198.85" x2="250.0" y2="198.85" stroke="#000" stroke-width="1.35"/>
<line x1="185.0" y1="191.65" x2="185.0" y2="206.04999999999998" stroke="#000" stroke-width="1.4"/>
<line x1="250.0" y1="191.65" x2="250.0" y2="206.04999999999998" stroke="#000" stroke-width="1.4"/>
<rect x="203.70" y="193.75" width="19.4" height="10.2" rx="1.6" fill="#fff" stroke="#444" stroke-width="0.75"/>
<text x="213.4" y="201.35" text-anchor="middle" font-size="7.0" fill="#111" stroke="#111" stroke-width="0.2">1.37</text>
<line x1="185.0" y1="217.0" x2="255.3" y2="217.0" stroke="#000" stroke-width="1.35"/>
<line x1="185.0" y1="209.8" x2="185.0" y2="224.2" stroke="#000" stroke-width="1.4"/>
<line x1="255.3" y1="209.8" x2="255.3" y2="224.2" stroke="#000" stroke-width="1.4"/>
<rect x="207.20" y="211.90" width="19.4" height="10.2" rx="1.6" fill="#fff" stroke="#444" stroke-width="0.75"/>
<text x="216.9" y="219.5" text-anchor="middle" font-size="7.0" fill="#111" stroke="#111" stroke-width="0.2">1.42</text>
<line x1="195.3" y1="235.14999999999998" x2="278.4" y2="235.14999999999998" stroke="#000" stroke-width="1.35"/>
<line x1="195.3" y1="227.95" x2="195.3" y2="242.34999999999997" stroke="#000" stroke-width="1.4"/>
<line x1="278.4" y1="227.95" x2="278.4" y2="242.34999999999997" stroke="#000" stroke-width="1.4"/>
<rect x="227.80" y="230.05" width="19.4" height="10.2" rx="1.6" fill="#fff" stroke="#444" stroke-width="0.75"/>
<text x="237.5" y="237.64999999999998" text-anchor="middle" font-size="7.0" fill="#111" stroke="#111" stroke-width="0.2">1.62</text>
<line x1="206.7" y1="253.29999999999998" x2="292.5" y2="253.29999999999998" stroke="#000" stroke-width="1.35"/>
<line x1="206.7" y1="246.1" x2="206.7" y2="260.5" stroke="#000" stroke-width="1.4"/>
<line x1="292.5" y1="246.1" x2="292.5" y2="260.5" stroke="#000" stroke-width="1.4"/>
<rect x="240.80" y="248.20" width="19.4" height="10.2" rx="1.6" fill="#fff" stroke="#444" stroke-width="0.75"/>
<text x="250.5" y="255.79999999999998" text-anchor="middle" font-size="7.0" fill="#111" stroke="#111" stroke-width="0.2">1.75</text>
<line x1="224.0" y1="271.45" x2="305.6" y2="271.45" stroke="#000" stroke-width="1.35"/>
<line x1="224.0" y1="264.25" x2="224.0" y2="278.65" stroke="#000" stroke-width="1.4"/>
<line x1="305.6" y1="264.25" x2="305.6" y2="278.65" stroke="#000" stroke-width="1.4"/>
<rect x="260.60" y="266.35" width="19.4" height="10.2" rx="1.6" fill="#fff" stroke="#444" stroke-width="0.75"/>
<text x="270.3" y="273.95" text-anchor="middle" font-size="7.0" fill="#111" stroke="#111" stroke-width="0.2">1.90</text>
<text x="392.1" y="175.4" text-anchor="middle" font-size="7.2" fill="#000" stroke="#000" stroke-width="0.2">Minimal</text>
<text x="392.1" y="183.0" text-anchor="middle" font-size="7.2" fill="#000" stroke="#000" stroke-width="0.2">depth</text>
<rect x="381.00" y="191.50" width="8.20" height="8.10" fill="#f2766e"/>
<text x="391.6" y="198.1" text-anchor="start" font-size="6.9" fill="#1a1a1a" stroke="#1a1a1a" stroke-width="0.2">0</text>
<rect x="381.00" y="200.55" width="8.20" height="8.10" fill="#a3a233"/>
<text x="391.6" y="207.15" text-anchor="start" font-size="6.9" fill="#1a1a1a" stroke="#1a1a1a" stroke-width="0.2">1</text>
<rect x="381.00" y="209.60" width="8.20" height="8.10" fill="#2eb87b"/>
<text x="391.6" y="216.2" text-anchor="start" font-size="6.9" fill="#1a1a1a" stroke="#1a1a1a" stroke-width="0.2">2</text>
<rect x="381.00" y="218.65" width="8.20" height="8.10" fill="#3ab0e6"/>
<text x="391.6" y="225.25" text-anchor="start" font-size="6.9" fill="#1a1a1a" stroke="#1a1a1a" stroke-width="0.2">3</text>
<rect x="381.00" y="227.70" width="8.20" height="8.10" fill="#c27bc6"/>
<text x="391.6" y="234.29999999999998" text-anchor="start" font-size="6.9" fill="#1a1a1a" stroke="#1a1a1a" stroke-width="0.2">4</text>
<rect x="381.00" y="236.75" width="8.20" height="8.10" fill="url(#na)"/>
<text x="391.6" y="243.35" text-anchor="start" font-size="6.9" fill="#1a1a1a" stroke="#1a1a1a" stroke-width="0.2">NA</text>
<text x="209.5" y="319.4" text-anchor="middle" font-size="7.9" fill="#000" stroke="#000" stroke-width="0.06">AAb Frequency</text>
<rect x="20.60" y="322.5" width="91.85" height="10.80" fill="#d9d9d9" stroke="#333" stroke-width="0.9"/>
<text x="66.92500000000001" y="330.8" text-anchor="middle" font-size="7.2" fill="#1a1a1a" stroke="#1a1a1a" stroke-width="0.2">1AAb+</text>
<line x1="29.6" y1="333.3" x2="29.6" y2="417.0" stroke="#f3f3f3" stroke-width="0.5"/>
<line x1="49.4" y1="333.3" x2="49.4" y2="417.0" stroke="#f3f3f3" stroke-width="0.5"/>
<line x1="69.2" y1="333.3" x2="69.2" y2="417.0" stroke="#f3f3f3" stroke-width="0.5"/>
<line x1="89.0" y1="333.3" x2="89.0" y2="417.0" stroke="#f3f3f3" stroke-width="0.5"/>
<line x1="108.8" y1="333.3" x2="108.8" y2="417.0" stroke="#f3f3f3" stroke-width="0.5"/>
<line x1="20.6" y1="412.375" x2="112.44999999999999" y2="412.375" stroke="#f3f3f3" stroke-width="0.5"/>
<line x1="20.6" y1="387.125" x2="112.44999999999999" y2="387.125" stroke="#f3f3f3" stroke-width="0.5"/>
<line x1="20.6" y1="361.875" x2="112.44999999999999" y2="361.875" stroke="#f3f3f3" stroke-width="0.5"/>
<line x1="20.6" y1="336.625" x2="112.44999999999999" y2="336.625" stroke="#f3f3f3" stroke-width="0.5"/>
<line x1="39.5" y1="333.3" x2="39.5" y2="417.0" stroke="#f0f0f0" stroke-width="0.6" stroke-dasharray="1.2,1.2"/>
<line x1="39.5" y1="417.0" x2="39.5" y2="418.8" stroke="#333333" stroke-width="0.7"/>
<text x="39.5" y="426.6" text-anchor="middle" font-size="7.4" fill="#3a3a3a" stroke="#3a3a3a" stroke-width="0.2">2.5</text>
<line x1="59.3" y1="333.3" x2="59.3" y2="417.0" stroke="#f0f0f0" stroke-width="0.6" stroke-dasharray="1.2,1.2"/>
<line x1="59.3" y1="417.0" x2="59.3" y2="418.8" stroke="#333333" stroke-width="0.7"/>
<text x="59.3" y="426.6" text-anchor="middle" font-size="7.4" fill="#3a3a3a" stroke="#3a3a3a" stroke-width="0.2">3.0</text>
<line x1="79.1" y1="333.3" x2="79.1" y2="417.0" stroke="#f0f0f0" stroke-width="0.6" stroke-dasharray="1.2,1.2"/>
<line x1="79.1" y1="417.0" x2="79.1" y2="418.8" stroke="#333333" stroke-width="0.7"/>
<text x="79.1" y="426.6" text-anchor="middle" font-size="7.4" fill="#3a3a3a" stroke="#3a3a3a" stroke-width="0.2">3.5</text>
<line x1="98.9" y1="333.3" x2="98.9" y2="417.0" stroke="#f0f0f0" stroke-width="0.6" stroke-dasharray="1.2,1.2"/>
<line x1="98.9" y1="417.0" x2="98.9" y2="418.8" stroke="#333333" stroke-width="0.7"/>
<text x="98.9" y="426.6" text-anchor="middle" font-size="7.4" fill="#3a3a3a" stroke="#3a3a3a" stroke-width="0.2">4.0</text>
<line x1="20.6" y1="399.75" x2="112.44999999999999" y2="399.75" stroke="#f0f0f0" stroke-width="0.6" stroke-dasharray="1.2,1.2"/>
<line x1="20.6" y1="374.5" x2="112.44999999999999" y2="374.5" stroke="#f0f0f0" stroke-width="0.6" stroke-dasharray="1.2,1.2"/>
<line x1="20.6" y1="349.25" x2="112.44999999999999" y2="349.25" stroke="#f0f0f0" stroke-width="0.6" stroke-dasharray="1.2,1.2"/>
<rect x="116.45" y="322.5" width="91.85" height="10.80" fill="#d9d9d9" stroke="#333" stroke-width="0.9"/>
<text x="162.775" y="330.8" text-anchor="middle" font-size="7.2" fill="#1a1a1a" stroke="#1a1a1a" stroke-width="0.2">2AAb+</text>
<line x1="125.44999999999999" y1="333.3" x2="125.44999999999999" y2="417.0" stroke="#f3f3f3" stroke-width="0.5"/>
<line x1="145.25" y1="333.3" x2="145.25" y2="417.0" stroke="#f3f3f3" stroke-width="0.5"/>
<line x1="165.05" y1="333.3" x2="165.05" y2="417.0" stroke="#f3f3f3" stroke-width="0.5"/>
<line x1="184.85" y1="333.3" x2="184.85" y2="417.0" stroke="#f3f3f3" stroke-width="0.5"/>
<line x1="204.64999999999998" y1="333.3" x2="204.64999999999998" y2="417.0" stroke="#f3f3f3" stroke-width="0.5"/>
<line x1="116.45" y1="412.375" x2="208.3" y2="412.375" stroke="#f3f3f3" stroke-width="0.5"/>
<line x1="116.45" y1="387.125" x2="208.3" y2="387.125" stroke="#f3f3f3" stroke-width="0.5"/>
<line x1="116.45" y1="361.875" x2="208.3" y2="361.875" stroke="#f3f3f3" stroke-width="0.5"/>
<line x1="116.45" y1="336.625" x2="208.3" y2="336.625" stroke="#f3f3f3" stroke-width="0.5"/>
<line x1="135.35" y1="333.3" x2="135.35" y2="417.0" stroke="#f0f0f0" stroke-width="0.6" stroke-dasharray="1.2,1.2"/>
<line x1="135.35" y1="417.0" x2="135.35" y2="418.8" stroke="#333333" stroke-width="0.7"/>
<text x="135.35" y="426.6" text-anchor="middle" font-size="7.4" fill="#3a3a3a" stroke="#3a3a3a" stroke-width="0.2">2.5</text>
<line x1="155.15" y1="333.3" x2="155.15" y2="417.0" stroke="#f0f0f0" stroke-width="0.6" stroke-dasharray="1.2,1.2"/>
<line x1="155.15" y1="417.0" x2="155.15" y2="418.8" stroke="#333333" stroke-width="0.7"/>
<text x="155.15" y="426.6" text-anchor="middle" font-size="7.4" fill="#3a3a3a" stroke="#3a3a3a" stroke-width="0.2">3.0</text>
<line x1="174.95" y1="333.3" x2="174.95" y2="417.0" stroke="#f0f0f0" stroke-width="0.6" stroke-dasharray="1.2,1.2"/>
<line x1="174.95" y1="417.0" x2="174.95" y2="418.8" stroke="#333333" stroke-width="0.7"/>
<text x="174.95" y="426.6" text-anchor="middle" font-size="7.4" fill="#3a3a3a" stroke="#3a3a3a" stroke-width="0.2">3.5</text>
<line x1="194.75" y1="333.3" x2="194.75" y2="417.0" stroke="#f0f0f0" stroke-width="0.6" stroke-dasharray="1.2,1.2"/>
<line x1="194.75" y1="417.0" x2="194.75" y2="418.8" stroke="#333333" stroke-width="0.7"/>
<text x="194.75" y="426.6" text-anchor="middle" font-size="7.4" fill="#3a3a3a" stroke="#3a3a3a" stroke-width="0.2">4.0</text>
<line x1="116.45" y1="399.75" x2="208.3" y2="399.75" stroke="#f0f0f0" stroke-width="0.6" stroke-dasharray="1.2,1.2"/>
<line x1="116.45" y1="374.5" x2="208.3" y2="374.5" stroke="#f0f0f0" stroke-width="0.6" stroke-dasharray="1.2,1.2"/>
<line x1="116.45" y1="349.25" x2="208.3" y2="349.25" stroke="#f0f0f0" stroke-width="0.6" stroke-dasharray="1.2,1.2"/>
<rect x="212.30" y="322.5" width="91.85" height="10.80" fill="#d9d9d9" stroke="#333" stroke-width="0.9"/>
<text x="258.625" y="330.8" text-anchor="middle" font-size="7.2" fill="#1a1a1a" stroke="#1a1a1a" stroke-width="0.2">3AAb+</text>
<line x1="221.3" y1="333.3" x2="221.3" y2="417.0" stroke="#f3f3f3" stroke-width="0.5"/>
<line x1="241.10000000000002" y1="333.3" x2="241.10000000000002" y2="417.0" stroke="#f3f3f3" stroke-width="0.5"/>
<line x1="260.90000000000003" y1="333.3" x2="260.90000000000003" y2="417.0" stroke="#f3f3f3" stroke-width="0.5"/>
<line x1="280.70000000000005" y1="333.3" x2="280.70000000000005" y2="417.0" stroke="#f3f3f3" stroke-width="0.5"/>
<line x1="300.5" y1="333.3" x2="300.5" y2="417.0" stroke="#f3f3f3" stroke-width="0.5"/>
<line x1="212.3" y1="412.375" x2="304.15" y2="412.375" stroke="#f3f3f3" stroke-width="0.5"/>
<line x1="212.3" y1="387.125" x2="304.15" y2="387.125" stroke="#f3f3f3" stroke-width="0.5"/>
<line x1="212.3" y1="361.875" x2="304.15" y2="361.875" stroke="#f3f3f3" stroke-width="0.5"/>
<line x1="212.3" y1="336.625" x2="304.15" y2="336.625" stroke="#f3f3f3" stroke-width="0.5"/>
<line x1="231.20000000000002" y1="333.3" x2="231.20000000000002" y2="417.0" stroke="#f0f0f0" stroke-width="0.6" stroke-dasharray="1.2,1.2"/>
<line x1="231.20000000000002" y1="417.0" x2="231.20000000000002" y2="418.8" stroke="#333333" stroke-width="0.7"/>
<text x="231.20000000000002" y="426.6" text-anchor="middle" font-size="7.4" fill="#3a3a3a" stroke="#3a3a3a" stroke-width="0.2">2.5</text>
<line x1="251.00000000000003" y1="333.3" x2="251.00000000000003" y2="417.0" stroke="#f0f0f0" stroke-width="0.6" stroke-dasharray="1.2,1.2"/>
<line x1="251.00000000000003" y1="417.0" x2="251.00000000000003" y2="418.8" stroke="#333333" stroke-width="0.7"/>
<text x="251.00000000000003" y="426.6" text-anchor="middle" font-size="7.4" fill="#3a3a3a" stroke="#3a3a3a" stroke-width="0.2">3.0</text>
<line x1="270.8" y1="333.3" x2="270.8" y2="417.0" stroke="#f0f0f0" stroke-width="0.6" stroke-dasharray="1.2,1.2"/>
<line x1="270.8" y1="417.0" x2="270.8" y2="418.8" stroke="#333333" stroke-width="0.7"/>
<text x="270.8" y="426.6" text-anchor="middle" font-size="7.4" fill="#3a3a3a" stroke="#3a3a3a" stroke-width="0.2">3.5</text>
<line x1="290.6" y1="333.3" x2="290.6" y2="417.0" stroke="#f0f0f0" stroke-width="0.6" stroke-dasharray="1.2,1.2"/>
<line x1="290.6" y1="417.0" x2="290.6" y2="418.8" stroke="#333333" stroke-width="0.7"/>
<text x="290.6" y="426.6" text-anchor="middle" font-size="7.4" fill="#3a3a3a" stroke="#3a3a3a" stroke-width="0.2">4.0</text>
<line x1="212.3" y1="399.75" x2="304.15" y2="399.75" stroke="#f0f0f0" stroke-width="0.6" stroke-dasharray="1.2,1.2"/>
<line x1="212.3" y1="374.5" x2="304.15" y2="374.5" stroke="#f0f0f0" stroke-width="0.6" stroke-dasharray="1.2,1.2"/>
<line x1="212.3" y1="349.25" x2="304.15" y2="349.25" stroke="#f0f0f0" stroke-width="0.6" stroke-dasharray="1.2,1.2"/>
<rect x="308.10" y="322.5" width="91.85" height="10.80" fill="#d9d9d9" stroke="#333" stroke-width="0.9"/>
<text x="354.425" y="330.8" text-anchor="middle" font-size="7.2" fill="#1a1a1a" stroke="#1a1a1a" stroke-width="0.2">4AAb+</text>
<line x1="317.1" y1="333.3" x2="317.1" y2="417.0" stroke="#f3f3f3" stroke-width="0.5"/>
<line x1="336.9" y1="333.3" x2="336.9" y2="417.0" stroke="#f3f3f3" stroke-width="0.5"/>
<line x1="356.7" y1="333.3" x2="356.7" y2="417.0" stroke="#f3f3f3" stroke-width="0.5"/>
<line x1="376.5" y1="333.3" x2="376.5" y2="417.0" stroke="#f3f3f3" stroke-width="0.5"/>
<line x1="396.3" y1="333.3" x2="396.3" y2="417.0" stroke="#f3f3f3" stroke-width="0.5"/>
<line x1="308.1" y1="412.375" x2="399.95000000000005" y2="412.375" stroke="#f3f3f3" stroke-width="0.5"/>
<line x1="308.1" y1="387.125" x2="399.95000000000005" y2="387.125" stroke="#f3f3f3" stroke-width="0.5"/>
<line x1="308.1" y1="361.875" x2="399.95000000000005" y2="361.875" stroke="#f3f3f3" stroke-width="0.5"/>
<line x1="308.1" y1="336.625" x2="399.95000000000005" y2="336.625" stroke="#f3f3f3" stroke-width="0.5"/>
<line x1="327.0" y1="333.3" x2="327.0" y2="417.0" stroke="#f0f0f0" stroke-width="0.6" stroke-dasharray="1.2,1.2"/>
<line x1="327.0" y1="417.0" x2="327.0" y2="418.8" stroke="#333333" stroke-width="0.7"/>
<text x="327.0" y="426.6" text-anchor="middle" font-size="7.4" fill="#3a3a3a" stroke="#3a3a3a" stroke-width="0.2">2.5</text>
<line x1="346.8" y1="333.3" x2="346.8" y2="417.0" stroke="#f0f0f0" stroke-width="0.6" stroke-dasharray="1.2,1.2"/>
<line x1="346.8" y1="417.0" x2="346.8" y2="418.8" stroke="#333333" stroke-width="0.7"/>
<text x="346.8" y="426.6" text-anchor="middle" font-size="7.4" fill="#3a3a3a" stroke="#3a3a3a" stroke-width="0.2">3.0</text>
<line x1="366.6" y1="333.3" x2="366.6" y2="417.0" stroke="#f0f0f0" stroke-width="0.6" stroke-dasharray="1.2,1.2"/>
<line x1="366.6" y1="417.0" x2="366.6" y2="418.8" stroke="#333333" stroke-width="0.7"/>
<text x="366.6" y="426.6" text-anchor="middle" font-size="7.4" fill="#3a3a3a" stroke="#3a3a3a" stroke-width="0.2">3.5</text>
<line x1="386.4" y1="333.3" x2="386.4" y2="417.0" stroke="#f0f0f0" stroke-width="0.6" stroke-dasharray="1.2,1.2"/>
<line x1="386.4" y1="417.0" x2="386.4" y2="418.8" stroke="#333333" stroke-width="0.7"/>
<text x="386.4" y="426.6" text-anchor="middle" font-size="7.4" fill="#3a3a3a" stroke="#3a3a3a" stroke-width="0.2">4.0</text>
<line x1="308.1" y1="399.75" x2="399.95000000000005" y2="399.75" stroke="#f0f0f0" stroke-width="0.6" stroke-dasharray="1.2,1.2"/>
<line x1="308.1" y1="374.5" x2="399.95000000000005" y2="374.5" stroke="#f0f0f0" stroke-width="0.6" stroke-dasharray="1.2,1.2"/>
<line x1="308.1" y1="349.25" x2="399.95000000000005" y2="349.25" stroke="#f0f0f0" stroke-width="0.6" stroke-dasharray="1.2,1.2"/>
<circle cx="46.40" cy="353.60" r="1.85" fill="#f27b72"/>
<circle cx="47.00" cy="359.30" r="1.85" fill="#f27b72"/>
<circle cx="39.20" cy="360.10" r="1.85" fill="#f27b72"/>
<circle cx="42.60" cy="361.50" r="1.85" fill="#f27b72"/>
<circle cx="44.30" cy="363.50" r="1.85" fill="#f27b72"/>
<circle cx="58.00" cy="367.40" r="1.85" fill="#f27b72"/>
<circle cx="61.30" cy="369.50" r="1.85" fill="#f27b72"/>
<circle cx="58.20" cy="371.20" r="1.85" fill="#f27b72"/>
<circle cx="65.50" cy="371.20" r="1.85" fill="#f27b72"/>
<circle cx="62.80" cy="373.80" r="1.85" fill="#f27b72"/>
<circle cx="37.20" cy="375.20" r="1.85" fill="#f27b72"/>
<circle cx="93.60" cy="337.30" r="1.85" fill="#f27b72"/>
<circle cx="99.00" cy="343.30" r="1.85" fill="#f27b72"/>
<circle cx="91.30" cy="347.70" r="1.85" fill="#f27b72"/>
<circle cx="84.20" cy="353.40" r="1.85" fill="#f27b72"/>
<circle cx="78.50" cy="354.30" r="1.85" fill="#f27b72"/>
<circle cx="77.50" cy="355.80" r="1.85" fill="#f27b72"/>
<circle cx="70.75" cy="354.60" r="1.85" fill="#f27b72"/>
<circle cx="72.90" cy="356.70" r="1.85" fill="#f27b72"/>
<circle cx="76.50" cy="357.50" r="1.85" fill="#f27b72"/>
<circle cx="78.50" cy="359.90" r="1.85" fill="#f27b72"/>
<circle cx="83.80" cy="359.60" r="1.85" fill="#f27b72"/>
<circle cx="83.80" cy="363.50" r="1.85" fill="#f27b72"/>
<circle cx="71.70" cy="363.10" r="1.85" fill="#f27b72"/>
<circle cx="76.10" cy="365.30" r="1.85" fill="#f27b72"/>
<circle cx="78.50" cy="365.00" r="1.85" fill="#f27b72"/>
<circle cx="108.80" cy="365.00" r="1.85" fill="#f27b72"/>
<circle cx="71.00" cy="367.40" r="1.85" fill="#f27b72"/>
<circle cx="77.50" cy="368.20" r="1.85" fill="#f27b72"/>
<circle cx="72.90" cy="370.00" r="1.85" fill="#f27b72"/>
<circle cx="80.80" cy="370.60" r="1.85" fill="#f27b72"/>
<circle cx="29.70" cy="381.00" r="1.85" fill="#f27b72"/>
<circle cx="30.30" cy="388.80" r="1.85" fill="#f27b72"/>
<circle cx="39.60" cy="385.20" r="1.85" fill="#f27b72"/>
<circle cx="45.20" cy="389.00" r="1.85" fill="#f27b72"/>
<circle cx="50.90" cy="388.40" r="1.85" fill="#f27b72"/>
<circle cx="54.40" cy="386.60" r="1.85" fill="#f27b72"/>
<circle cx="55.30" cy="388.10" r="1.85" fill="#f27b72"/>
<circle cx="56.00" cy="382.50" r="1.85" fill="#f27b72"/>
<circle cx="57.60" cy="378.60" r="1.85" fill="#f27b72"/>
<circle cx="61.30" cy="375.90" r="1.85" fill="#f27b72"/>
<circle cx="63.00" cy="375.30" r="1.85" fill="#f27b72"/>
<circle cx="63.00" cy="378.60" r="1.85" fill="#f27b72"/>
<circle cx="66.10" cy="380.70" r="1.85" fill="#f27b72"/>
<circle cx="61.80" cy="386.30" r="1.85" fill="#f27b72"/>
<circle cx="65.40" cy="388.80" r="1.85" fill="#f27b72"/>
<circle cx="64.80" cy="391.70" r="1.85" fill="#f27b72"/>
<circle cx="59.80" cy="398.30" r="1.85" fill="#f27b72"/>
<circle cx="53.50" cy="413.30" r="1.85" fill="#f27b72"/>
<circle cx="70.40" cy="391.10" r="1.85" fill="#f27b72"/>
<circle cx="74.00" cy="378.70" r="1.85" fill="#f27b72"/>
<line x1="20.6" y1="372.4" x2="112.44999999999999" y2="372.4" stroke="#1a1a1a" stroke-width="1.3" stroke-dasharray="3,2"/>
<line x1="70.8" y1="333.3" x2="70.8" y2="417.0" stroke="#1a1a1a" stroke-width="1.3" stroke-dasharray="3,2"/>
<rect x="20.60" y="333.30" width="91.85" height="83.70" fill="none" stroke="#333" stroke-width="0.9"/>
<circle cx="176.50" cy="349.50" r="1.85" fill="#7fb243"/>
<circle cx="173.60" cy="352.20" r="1.85" fill="#7fb243"/>
<circle cx="184.90" cy="354.70" r="1.85" fill="#7fb243"/>
<circle cx="161.10" cy="358.00" r="1.85" fill="#7fb243"/>
<circle cx="156.30" cy="361.80" r="1.85" fill="#7fb243"/>
<circle cx="178.50" cy="364.20" r="1.85" fill="#7fb243"/>
<circle cx="149.10" cy="367.90" r="1.85" fill="#7fb243"/>
<circle cx="152.20" cy="368.60" r="1.85" fill="#7fb243"/>
<circle cx="161.50" cy="367.20" r="1.85" fill="#7fb243"/>
<circle cx="162.40" cy="371.60" r="1.85" fill="#7fb243"/>
<circle cx="161.10" cy="372.90" r="1.85" fill="#7fb243"/>
<circle cx="163.10" cy="374.70" r="1.85" fill="#7fb243"/>
<circle cx="155.40" cy="373.70" r="1.85" fill="#7fb243"/>
<circle cx="177.80" cy="377.80" r="1.85" fill="#7fb243"/>
<circle cx="155.00" cy="380.80" r="1.85" fill="#7fb243"/>
<circle cx="163.80" cy="386.00" r="1.85" fill="#7fb243"/>
<circle cx="153.20" cy="388.30" r="1.85" fill="#7fb243"/>
<circle cx="159.50" cy="389.00" r="1.85" fill="#7fb243"/>
<circle cx="130.50" cy="380.00" r="1.85" fill="#7fb243"/>
<circle cx="133.25" cy="380.00" r="1.85" fill="#7fb243"/>
<circle cx="123.75" cy="392.00" r="1.85" fill="#7fb243"/>
<circle cx="144.50" cy="400.75" r="1.85" fill="#7fb243"/>
<circle cx="120.50" cy="412.50" r="1.85" fill="#7fb243"/>
<line x1="116.45" y1="372.4" x2="208.3" y2="372.4" stroke="#1a1a1a" stroke-width="1.3" stroke-dasharray="3,2"/>
<line x1="166.8" y1="333.3" x2="166.8" y2="417.0" stroke="#1a1a1a" stroke-width="1.3" stroke-dasharray="3,2"/>
<rect x="116.45" y="333.30" width="91.85" height="83.70" fill="none" stroke="#333" stroke-width="0.9"/>
<circle cx="261.80" cy="355.20" r="1.85" fill="#28b6c4"/>
<circle cx="266.70" cy="362.60" r="1.85" fill="#28b6c4"/>
<circle cx="264.00" cy="365.60" r="1.85" fill="#28b6c4"/>
<circle cx="265.80" cy="368.10" r="1.85" fill="#28b6c4"/>
<circle cx="246.20" cy="366.00" r="1.85" fill="#28b6c4"/>
<circle cx="251.40" cy="364.60" r="1.85" fill="#28b6c4"/>
<circle cx="252.40" cy="370.50" r="1.85" fill="#28b6c4"/>
<circle cx="238.00" cy="371.50" r="1.85" fill="#28b6c4"/>
<circle cx="260.30" cy="373.00" r="1.85" fill="#28b6c4"/>
<circle cx="262.50" cy="372.00" r="1.85" fill="#28b6c4"/>
<circle cx="264.70" cy="376.00" r="1.85" fill="#28b6c4"/>
<circle cx="235.50" cy="376.00" r="1.85" fill="#28b6c4"/>
<circle cx="219.10" cy="378.20" r="1.85" fill="#28b6c4"/>
<circle cx="254.80" cy="377.50" r="1.85" fill="#28b6c4"/>
<circle cx="252.40" cy="379.30" r="1.85" fill="#28b6c4"/>
<circle cx="248.10" cy="380.50" r="1.85" fill="#28b6c4"/>
<circle cx="248.90" cy="382.00" r="1.85" fill="#28b6c4"/>
<circle cx="232.80" cy="385.70" r="1.85" fill="#28b6c4"/>
<circle cx="245.40" cy="386.40" r="1.85" fill="#28b6c4"/>
<circle cx="247.70" cy="387.40" r="1.85" fill="#28b6c4"/>
<circle cx="228.30" cy="389.40" r="1.85" fill="#28b6c4"/>
<circle cx="238.70" cy="389.40" r="1.85" fill="#28b6c4"/>
<circle cx="252.90" cy="391.60" r="1.85" fill="#28b6c4"/>
<circle cx="224.60" cy="393.10" r="1.85" fill="#28b6c4"/>
<circle cx="245.00" cy="394.30" r="1.85" fill="#28b6c4"/>
<circle cx="250.30" cy="397.30" r="1.85" fill="#28b6c4"/>
<circle cx="249.40" cy="398.70" r="1.85" fill="#28b6c4"/>
<circle cx="217.20" cy="409.10" r="1.85" fill="#28b6c4"/>
<circle cx="233.50" cy="409.10" r="1.85" fill="#28b6c4"/>
<circle cx="273.20" cy="370.70" r="1.85" fill="#28b6c4"/>
<line x1="212.3" y1="372.4" x2="304.15" y2="372.4" stroke="#1a1a1a" stroke-width="1.3" stroke-dasharray="3,2"/>
<line x1="262.2" y1="333.3" x2="262.2" y2="417.0" stroke="#1a1a1a" stroke-width="1.3" stroke-dasharray="3,2"/>
<rect x="212.30" y="333.30" width="91.85" height="83.70" fill="none" stroke="#333" stroke-width="0.9"/>
<circle cx="337.40" cy="373.90" r="1.85" fill="#b28ad2"/>
<circle cx="321.90" cy="376.10" r="1.85" fill="#b28ad2"/>
<circle cx="347.00" cy="375.50" r="1.85" fill="#b28ad2"/>
<circle cx="319.70" cy="379.20" r="1.85" fill="#b28ad2"/>
<circle cx="319.70" cy="381.30" r="1.85" fill="#b28ad2"/>
<circle cx="332.40" cy="380.40" r="1.85" fill="#b28ad2"/>
<circle cx="347.00" cy="381.30" r="1.85" fill="#b28ad2"/>
<circle cx="348.30" cy="383.30" r="1.85" fill="#b28ad2"/>
<circle cx="345.40" cy="384.10" r="1.85" fill="#b28ad2"/>
<circle cx="341.50" cy="384.50" r="1.85" fill="#b28ad2"/>
<circle cx="331.20" cy="385.40" r="1.85" fill="#b28ad2"/>
<circle cx="338.00" cy="388.20" r="1.85" fill="#b28ad2"/>
<circle cx="339.80" cy="389.10" r="1.85" fill="#b28ad2"/>
<circle cx="341.70" cy="389.70" r="1.85" fill="#b28ad2"/>
<circle cx="330.20" cy="390.00" r="1.85" fill="#b28ad2"/>
<circle cx="332.80" cy="393.40" r="1.85" fill="#b28ad2"/>
<circle cx="336.10" cy="393.20" r="1.85" fill="#b28ad2"/>
<circle cx="319.40" cy="394.40" r="1.85" fill="#b28ad2"/>
<circle cx="329.90" cy="401.50" r="1.85" fill="#b28ad2"/>
<circle cx="329.70" cy="406.00" r="1.85" fill="#b28ad2"/>
<circle cx="382.00" cy="368.75" r="1.85" fill="#b28ad2"/>
<circle cx="375.50" cy="376.25" r="1.85" fill="#b28ad2"/>
<line x1="308.1" y1="372.4" x2="399.95000000000005" y2="372.4" stroke="#1a1a1a" stroke-width="1.3" stroke-dasharray="3,2"/>
<line x1="358.4" y1="333.3" x2="358.4" y2="417.0" stroke="#1a1a1a" stroke-width="1.3" stroke-dasharray="3,2"/>
<rect x="308.10" y="333.30" width="91.85" height="83.70" fill="none" stroke="#333" stroke-width="0.9"/>
<line x1="18.8" y1="399.75" x2="20.6" y2="399.75" stroke="#333333" stroke-width="0.7"/>
<text x="17.4" y="402.35" text-anchor="end" font-size="7.4" fill="#3a3a3a" stroke="#3a3a3a" stroke-width="0.2">2</text>
<line x1="18.8" y1="374.5" x2="20.6" y2="374.5" stroke="#333333" stroke-width="0.7"/>
<text x="17.4" y="377.1" text-anchor="end" font-size="7.4" fill="#3a3a3a" stroke="#3a3a3a" stroke-width="0.2">3</text>
<line x1="18.8" y1="349.25" x2="20.6" y2="349.25" stroke="#333333" stroke-width="0.7"/>
<text x="17.4" y="351.85" text-anchor="end" font-size="7.4" fill="#3a3a3a" stroke="#3a3a3a" stroke-width="0.2">4</text>
<text transform="translate(6.3,374.0) rotate(-90)" text-anchor="middle" font-size="7.9" fill="#000" stroke="#000" stroke-width="0.06">Log Lipase</text>
<text x="209.0" y="438.0" text-anchor="middle" font-size="7.9" fill="#000" stroke="#000" stroke-width="0.06">Log Trypsinogen</text>
</svg>
</body></html>
